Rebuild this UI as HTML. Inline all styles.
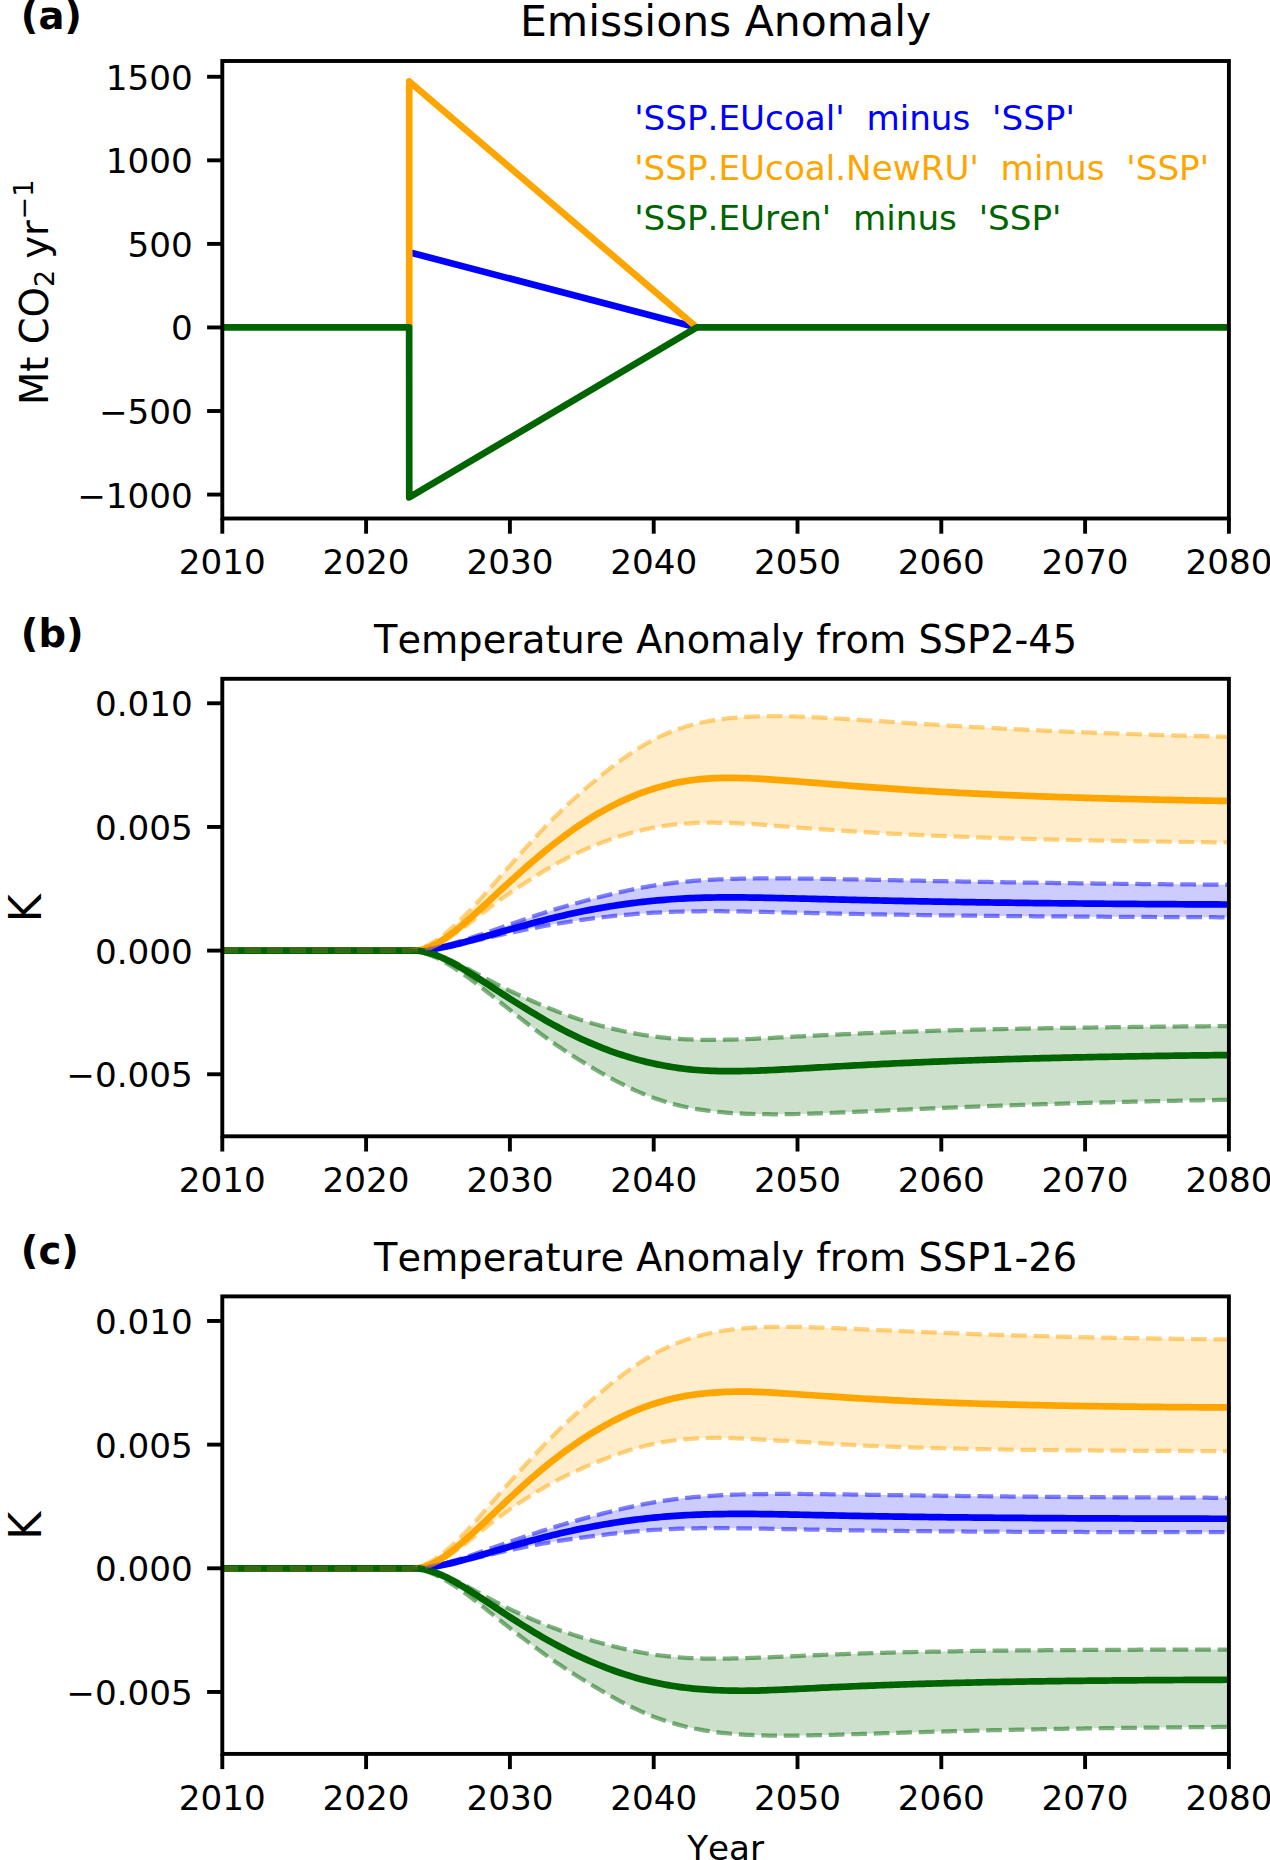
<!DOCTYPE html>
<html lang="en"><head><meta charset="utf-8"><title>Emissions and Temperature Anomaly</title>
<style>html,body{margin:0;padding:0;background:#fff}svg{display:block}</style></head>
<body>
<svg width="1270" height="1860" viewBox="0 0 1270 1860" font-family="DejaVu Sans, Liberation Sans, sans-serif" style="font-kerning:none;font-variant-ligatures:none">
<rect width="1270" height="1860" fill="#fff"/>
<defs>
<clipPath id="c0"><rect x="222.3" y="61.0" width="1006.6" height="457.5"/></clipPath>
<clipPath id="c1"><rect x="222.3" y="678.8" width="1006.6" height="457.5"/></clipPath>
<clipPath id="c2"><rect x="222.3" y="1296.4" width="1006.6" height="457.5"/></clipPath>
</defs>
<g clip-path="url(#c0)" fill="none" stroke-linejoin="round" stroke-width="6.7">
<path d="M409.24 252.25 L696.84 327.45" stroke="#0000ff"/>
<path d="M409.24 327.45 L409.24 81.45 L696.84 327.45" stroke="#ffa500"/>
<path d="M222.3 327.45 L409.14 327.45 L409.24 497.41 L696.84 327.45 L1238.9 327.45" stroke="#006400"/>
</g>
<line x1="222.3" y1="518.5" x2="222.3" y2="533.7" stroke="#000" stroke-width="3.9"/>
<text x="222.3" y="574.2" font-size="34.2" text-anchor="middle">2010</text>
<line x1="366.1" y1="518.5" x2="366.1" y2="533.7" stroke="#000" stroke-width="3.9"/>
<text x="366.1" y="574.2" font-size="34.2" text-anchor="middle">2020</text>
<line x1="509.9" y1="518.5" x2="509.9" y2="533.7" stroke="#000" stroke-width="3.9"/>
<text x="509.9" y="574.2" font-size="34.2" text-anchor="middle">2030</text>
<line x1="653.7" y1="518.5" x2="653.7" y2="533.7" stroke="#000" stroke-width="3.9"/>
<text x="653.7" y="574.2" font-size="34.2" text-anchor="middle">2040</text>
<line x1="797.5" y1="518.5" x2="797.5" y2="533.7" stroke="#000" stroke-width="3.9"/>
<text x="797.5" y="574.2" font-size="34.2" text-anchor="middle">2050</text>
<line x1="941.3" y1="518.5" x2="941.3" y2="533.7" stroke="#000" stroke-width="3.9"/>
<text x="941.3" y="574.2" font-size="34.2" text-anchor="middle">2060</text>
<line x1="1085.1" y1="518.5" x2="1085.1" y2="533.7" stroke="#000" stroke-width="3.9"/>
<text x="1085.1" y="574.2" font-size="34.2" text-anchor="middle">2070</text>
<line x1="1228.9" y1="518.5" x2="1228.9" y2="533.7" stroke="#000" stroke-width="3.9"/>
<text x="1228.9" y="574.2" font-size="34.2" text-anchor="middle">2080</text>
<line x1="207.1" y1="76.77" x2="222.3" y2="76.77" stroke="#000" stroke-width="3.9"/>
<text x="192.8" y="89.77" font-size="34.2" text-anchor="end">1500</text>
<line x1="207.1" y1="160.33" x2="222.3" y2="160.33" stroke="#000" stroke-width="3.9"/>
<text x="192.8" y="173.33" font-size="34.2" text-anchor="end">1000</text>
<line x1="207.1" y1="243.89" x2="222.3" y2="243.89" stroke="#000" stroke-width="3.9"/>
<text x="192.8" y="256.89" font-size="34.2" text-anchor="end">500</text>
<line x1="207.1" y1="327.45" x2="222.3" y2="327.45" stroke="#000" stroke-width="3.9"/>
<text x="192.8" y="340.45" font-size="34.2" text-anchor="end">0</text>
<line x1="207.1" y1="411.01" x2="222.3" y2="411.01" stroke="#000" stroke-width="3.9"/>
<text x="192.8" y="424.01" font-size="34.2" text-anchor="end">−500</text>
<line x1="207.1" y1="494.57" x2="222.3" y2="494.57" stroke="#000" stroke-width="3.9"/>
<text x="192.8" y="507.57" font-size="34.2" text-anchor="end">−1000</text>
<rect x="222.3" y="61" width="1006.6" height="457.5" fill="none" stroke="#000" stroke-width="3.9"/>
<text x="634.2" y="130.2" font-size="34.2" fill="#0000ff" xml:space="preserve">'SSP.EUcoal'  minus  'SSP'</text>
<text x="634.2" y="180.2" font-size="34.2" fill="#ffa500" xml:space="preserve">'SSP.EUcoal.NewRU'  minus  'SSP'</text>
<text x="634.2" y="230.2" font-size="34.2" fill="#006400" xml:space="preserve">'SSP.EUren'  minus  'SSP'</text>
<text transform="translate(48 404.9) rotate(-90)" font-size="38.5"><tspan x="0" y="0">Mt CO</tspan><tspan x="118" y="6.3" font-size="26.95">2</tspan><tspan x="146.2" y="0">yr</tspan><tspan x="185.5" y="-14.7" font-size="26.95">−1</tspan></text>
<g clip-path="url(#c1)" fill="none" stroke-linejoin="round">
<path d="M222.3 950.6 L409.24 950.59 L412.84 950.48 L416.43 950.27 L420.03 949.96 L423.62 949.55 L427.22 949.05 L430.81 948.46 L434.41 947.8 L438 947.05 L441.6 946.24 L445.19 945.36 L448.79 944.44 L452.38 943.46 L455.98 942.44 L459.57 941.38 L463.17 940.29 L466.76 939.17 L470.36 938.02 L473.95 936.84 L477.55 935.64 L481.14 934.43 L484.74 933.2 L488.33 931.96 L491.93 930.7 L495.52 929.45 L499.12 928.19 L502.71 926.93 L506.31 925.67 L509.9 924.41 L513.5 923.16 L517.09 921.91 L520.69 920.66 L524.28 919.43 L527.88 918.2 L531.47 916.99 L535.07 915.78 L538.66 914.59 L542.26 913.41 L545.85 912.25 L549.45 911.11 L553.04 909.99 L556.63 908.89 L560.23 907.81 L563.83 906.75 L567.42 905.7 L571.02 904.68 L574.61 903.67 L578.21 902.68 L581.8 901.7 L585.4 900.73 L588.99 899.78 L592.59 898.85 L596.18 897.92 L599.78 897.01 L603.37 896.1 L606.97 895.22 L610.56 894.35 L614.16 893.5 L617.75 892.67 L621.35 891.85 L624.94 891.06 L628.54 890.29 L632.13 889.55 L635.73 888.83 L639.32 888.13 L642.92 887.46 L646.51 886.82 L650.11 886.2 L653.7 885.62 L657.3 885.06 L660.89 884.54 L664.49 884.04 L668.08 883.57 L671.68 883.12 L675.27 882.7 L678.87 882.3 L682.46 881.93 L686.06 881.58 L689.65 881.26 L693.25 880.96 L696.84 880.68 L700.44 880.42 L704.03 880.19 L707.63 879.97 L711.22 879.78 L714.82 879.6 L718.41 879.43 L722.01 879.28 L725.6 879.15 L729.2 879.03 L732.79 878.92 L736.38 878.82 L739.98 878.73 L743.58 878.66 L747.17 878.6 L750.77 878.54 L754.36 878.5 L757.96 878.46 L761.55 878.44 L765.15 878.41 L768.74 878.4 L772.34 878.39 L775.93 878.38 L779.53 878.38 L783.12 878.39 L786.72 878.41 L790.31 878.43 L793.91 878.46 L797.5 878.5 L801.1 878.54 L804.69 878.59 L808.29 878.64 L811.88 878.69 L815.48 878.75 L819.07 878.8 L822.67 878.86 L826.26 878.92 L829.86 878.98 L833.45 879.05 L837.05 879.11 L840.64 879.18 L844.24 879.25 L847.83 879.32 L851.43 879.38 L855.02 879.45 L858.62 879.52 L862.21 879.6 L865.81 879.67 L869.4 879.74 L873 879.81 L876.59 879.88 L880.19 879.95 L883.78 880.03 L887.38 880.1 L890.97 880.17 L894.57 880.24 L898.16 880.31 L901.76 880.39 L905.35 880.46 L908.95 880.53 L912.54 880.6 L916.14 880.67 L919.73 880.74 L923.33 880.81 L926.92 880.88 L930.52 880.95 L934.11 881.02 L937.71 881.08 L941.3 881.15 L944.9 881.22 L948.49 881.28 L952.09 881.35 L955.68 881.42 L959.28 881.48 L962.87 881.54 L966.47 881.61 L970.06 881.67 L973.66 881.73 L977.25 881.8 L980.85 881.86 L984.44 881.92 L988.04 881.98 L991.63 882.04 L995.23 882.1 L998.82 882.16 L1002.42 882.21 L1006.01 882.27 L1009.61 882.33 L1013.2 882.38 L1016.8 882.44 L1020.39 882.49 L1023.99 882.55 L1027.58 882.6 L1031.18 882.65 L1034.77 882.71 L1038.37 882.76 L1041.96 882.81 L1045.56 882.86 L1049.15 882.91 L1052.75 882.96 L1056.34 883.01 L1059.94 883.06 L1063.53 883.1 L1067.13 883.15 L1070.72 883.2 L1074.32 883.24 L1077.91 883.29 L1081.51 883.33 L1085.1 883.38 L1088.7 883.42 L1092.29 883.47 L1095.89 883.51 L1099.48 883.55 L1103.08 883.59 L1106.67 883.63 L1110.27 883.67 L1113.86 883.71 L1117.46 883.75 L1121.05 883.79 L1124.65 883.83 L1128.24 883.87 L1131.84 883.91 L1135.43 883.95 L1139.03 883.98 L1142.62 884.02 L1146.22 884.06 L1149.81 884.09 L1153.41 884.13 L1157 884.16 L1160.6 884.2 L1164.19 884.23 L1167.79 884.26 L1171.38 884.3 L1174.98 884.33 L1178.57 884.36 L1182.17 884.39 L1185.76 884.42 L1189.36 884.46 L1192.95 884.49 L1196.55 884.52 L1200.14 884.55 L1203.74 884.58 L1207.33 884.6 L1210.93 884.63 L1214.52 884.66 L1218.12 884.69 L1221.71 884.72 L1225.31 884.74 L1228.9 884.77 L1228.9 917.29 L1225.31 917.28 L1221.71 917.27 L1218.12 917.26 L1214.52 917.24 L1210.93 917.23 L1207.33 917.22 L1203.74 917.21 L1200.14 917.19 L1196.55 917.18 L1192.95 917.16 L1189.36 917.15 L1185.76 917.14 L1182.17 917.12 L1178.57 917.11 L1174.98 917.09 L1171.38 917.08 L1167.79 917.06 L1164.19 917.05 L1160.6 917.03 L1157 917.01 L1153.41 917 L1149.81 916.98 L1146.22 916.96 L1142.62 916.95 L1139.03 916.93 L1135.43 916.91 L1131.84 916.89 L1128.24 916.87 L1124.65 916.86 L1121.05 916.84 L1117.46 916.82 L1113.86 916.8 L1110.27 916.78 L1106.67 916.76 L1103.08 916.73 L1099.48 916.71 L1095.89 916.69 L1092.29 916.67 L1088.7 916.65 L1085.1 916.62 L1081.51 916.6 L1077.91 916.58 L1074.32 916.55 L1070.72 916.53 L1067.13 916.5 L1063.53 916.48 L1059.94 916.45 L1056.34 916.43 L1052.75 916.4 L1049.15 916.37 L1045.56 916.34 L1041.96 916.32 L1038.37 916.29 L1034.77 916.26 L1031.18 916.23 L1027.58 916.2 L1023.99 916.17 L1020.39 916.14 L1016.8 916.1 L1013.2 916.07 L1009.61 916.04 L1006.01 916.01 L1002.42 915.97 L998.82 915.94 L995.23 915.9 L991.63 915.87 L988.04 915.83 L984.44 915.79 L980.85 915.75 L977.25 915.72 L973.66 915.68 L970.06 915.64 L966.47 915.6 L962.87 915.56 L959.28 915.51 L955.68 915.47 L952.09 915.43 L948.49 915.38 L944.9 915.34 L941.3 915.29 L937.71 915.25 L934.11 915.2 L930.52 915.15 L926.92 915.1 L923.33 915.05 L919.73 915 L916.14 914.95 L912.54 914.9 L908.95 914.85 L905.35 914.79 L901.76 914.74 L898.16 914.68 L894.57 914.62 L890.97 914.57 L887.38 914.51 L883.78 914.45 L880.19 914.39 L876.59 914.32 L873 914.26 L869.4 914.2 L865.81 914.13 L862.21 914.07 L858.62 914 L855.02 913.93 L851.43 913.86 L847.83 913.79 L844.24 913.72 L840.64 913.65 L837.05 913.58 L833.45 913.5 L829.86 913.43 L826.26 913.35 L822.67 913.27 L819.07 913.19 L815.48 913.11 L811.88 913.03 L808.29 912.95 L804.69 912.87 L801.1 912.78 L797.5 912.7 L793.91 912.61 L790.31 912.53 L786.72 912.44 L783.12 912.35 L779.53 912.27 L775.93 912.18 L772.34 912.09 L768.74 912 L765.15 911.91 L761.55 911.83 L757.96 911.74 L754.36 911.66 L750.77 911.59 L747.17 911.53 L743.58 911.47 L739.98 911.42 L736.38 911.37 L732.79 911.33 L729.2 911.29 L725.6 911.27 L722.01 911.24 L718.41 911.23 L714.82 911.22 L711.22 911.22 L707.63 911.22 L704.03 911.24 L700.44 911.26 L696.84 911.29 L693.25 911.33 L689.65 911.39 L686.06 911.46 L682.46 911.54 L678.87 911.64 L675.27 911.75 L671.68 911.87 L668.08 912.01 L664.49 912.17 L660.89 912.34 L657.3 912.52 L653.7 912.72 L650.11 912.94 L646.51 913.18 L642.92 913.43 L639.32 913.69 L635.73 913.97 L632.13 914.27 L628.54 914.58 L624.94 914.91 L621.35 915.25 L617.75 915.6 L614.16 915.97 L610.56 916.35 L606.97 916.75 L603.37 917.16 L599.78 917.58 L596.18 918.02 L592.59 918.47 L588.99 918.93 L585.4 919.41 L581.8 919.91 L578.21 920.43 L574.61 920.95 L571.02 921.5 L567.42 922.06 L563.83 922.64 L560.23 923.23 L556.63 923.84 L553.04 924.46 L549.45 925.1 L545.85 925.75 L542.26 926.42 L538.66 927.11 L535.07 927.8 L531.47 928.49 L527.88 929.2 L524.28 929.91 L520.69 930.63 L517.09 931.37 L513.5 932.11 L509.9 932.87 L506.31 933.63 L502.71 934.42 L499.12 935.21 L495.52 936.03 L491.93 936.85 L488.33 937.69 L484.74 938.54 L481.14 939.39 L477.55 940.24 L473.95 941.09 L470.36 941.94 L466.76 942.78 L463.17 943.6 L459.57 944.42 L455.98 945.21 L452.38 945.98 L448.79 946.72 L445.19 947.42 L441.6 948.08 L438 948.69 L434.41 949.23 L430.81 949.7 L427.22 950.08 L423.62 950.37 L420.03 950.55 L416.43 950.62 L412.84 950.6 L409.24 950.6 L222.3 950.6Z" fill="#0000ff" fill-opacity="0.2" stroke="none"/>
<path d="M222.3 950.6 L409.24 950.57 L412.84 950.23 L416.43 949.53 L420.03 948.51 L423.62 947.18 L427.22 945.56 L430.81 943.66 L434.41 941.5 L438 939.09 L441.6 936.44 L445.19 933.6 L448.79 930.59 L452.38 927.42 L455.98 924.11 L459.57 920.68 L463.17 917.13 L466.76 913.48 L470.36 909.74 L473.95 905.92 L477.55 902.04 L481.14 898.09 L484.74 894.1 L488.33 890.07 L491.93 886 L495.52 881.92 L499.12 877.83 L502.71 873.74 L506.31 869.65 L509.9 865.56 L513.5 861.49 L517.09 857.44 L520.69 853.41 L524.28 849.4 L527.88 845.42 L531.47 841.47 L535.07 837.56 L538.66 833.68 L542.26 829.84 L545.85 826.08 L549.45 822.38 L553.04 818.74 L556.63 815.17 L560.23 811.67 L563.83 808.22 L567.42 804.83 L571.02 801.5 L574.61 798.23 L578.21 795 L581.8 791.83 L585.4 788.7 L588.99 785.61 L592.59 782.57 L596.18 779.56 L599.78 776.59 L603.37 773.67 L606.97 770.79 L610.56 767.97 L614.16 765.21 L617.75 762.51 L621.35 759.87 L624.94 757.3 L628.54 754.8 L632.13 752.38 L635.73 750.04 L639.32 747.78 L642.92 745.6 L646.51 743.51 L650.11 741.52 L653.7 739.62 L657.3 737.82 L660.89 736.12 L664.49 734.5 L668.08 732.97 L671.68 731.52 L675.27 730.14 L678.87 728.85 L682.46 727.64 L686.06 726.51 L689.65 725.46 L693.25 724.48 L696.84 723.58 L700.44 722.76 L704.03 721.99 L707.63 721.3 L711.22 720.66 L714.82 720.07 L718.41 719.54 L722.01 719.05 L725.6 718.61 L729.2 718.22 L732.79 717.86 L736.38 717.55 L739.98 717.27 L743.58 717.03 L747.17 716.82 L750.77 716.65 L754.36 716.5 L757.96 716.39 L761.55 716.3 L765.15 716.23 L768.74 716.18 L772.34 716.14 L775.93 716.13 L779.53 716.13 L783.12 716.16 L786.72 716.2 L790.31 716.27 L793.91 716.37 L797.5 716.5 L801.1 716.64 L804.69 716.79 L808.29 716.96 L811.88 717.13 L815.48 717.31 L819.07 717.49 L822.67 717.68 L826.26 717.88 L829.86 718.08 L833.45 718.29 L837.05 718.5 L840.64 718.72 L844.24 718.94 L847.83 719.16 L851.43 719.38 L855.02 719.61 L858.62 719.84 L862.21 720.07 L865.81 720.3 L869.4 720.53 L873 720.76 L876.59 721 L880.19 721.23 L883.78 721.46 L887.38 721.7 L890.97 721.93 L894.57 722.16 L898.16 722.4 L901.76 722.63 L905.35 722.86 L908.95 723.09 L912.54 723.32 L916.14 723.55 L919.73 723.78 L923.33 724.01 L926.92 724.23 L930.52 724.45 L934.11 724.68 L937.71 724.9 L941.3 725.12 L944.9 725.33 L948.49 725.55 L952.09 725.76 L955.68 725.98 L959.28 726.19 L962.87 726.39 L966.47 726.6 L970.06 726.81 L973.66 727.01 L977.25 727.21 L980.85 727.41 L984.44 727.61 L988.04 727.8 L991.63 728 L995.23 728.19 L998.82 728.38 L1002.42 728.56 L1006.01 728.75 L1009.61 728.93 L1013.2 729.11 L1016.8 729.29 L1020.39 729.47 L1023.99 729.65 L1027.58 729.82 L1031.18 729.99 L1034.77 730.16 L1038.37 730.33 L1041.96 730.5 L1045.56 730.66 L1049.15 730.82 L1052.75 730.98 L1056.34 731.14 L1059.94 731.3 L1063.53 731.45 L1067.13 731.61 L1070.72 731.76 L1074.32 731.91 L1077.91 732.06 L1081.51 732.2 L1085.1 732.35 L1088.7 732.49 L1092.29 732.63 L1095.89 732.77 L1099.48 732.91 L1103.08 733.04 L1106.67 733.18 L1110.27 733.31 L1113.86 733.44 L1117.46 733.57 L1121.05 733.7 L1124.65 733.82 L1128.24 733.95 L1131.84 734.07 L1135.43 734.19 L1139.03 734.31 L1142.62 734.43 L1146.22 734.55 L1149.81 734.66 L1153.41 734.78 L1157 734.89 L1160.6 735 L1164.19 735.11 L1167.79 735.22 L1171.38 735.33 L1174.98 735.43 L1178.57 735.54 L1182.17 735.64 L1185.76 735.74 L1189.36 735.84 L1192.95 735.94 L1196.55 736.04 L1200.14 736.14 L1203.74 736.23 L1207.33 736.33 L1210.93 736.42 L1214.52 736.51 L1218.12 736.61 L1221.71 736.69 L1225.31 736.78 L1228.9 736.87 L1228.9 842.46 L1225.31 842.42 L1221.71 842.38 L1218.12 842.34 L1214.52 842.3 L1210.93 842.26 L1207.33 842.22 L1203.74 842.18 L1200.14 842.13 L1196.55 842.09 L1192.95 842.04 L1189.36 842 L1185.76 841.95 L1182.17 841.91 L1178.57 841.86 L1174.98 841.81 L1171.38 841.76 L1167.79 841.71 L1164.19 841.66 L1160.6 841.61 L1157 841.56 L1153.41 841.5 L1149.81 841.45 L1146.22 841.39 L1142.62 841.34 L1139.03 841.28 L1135.43 841.22 L1131.84 841.16 L1128.24 841.1 L1124.65 841.04 L1121.05 840.98 L1117.46 840.91 L1113.86 840.85 L1110.27 840.78 L1106.67 840.72 L1103.08 840.65 L1099.48 840.58 L1095.89 840.51 L1092.29 840.43 L1088.7 840.36 L1085.1 840.29 L1081.51 840.21 L1077.91 840.13 L1074.32 840.06 L1070.72 839.98 L1067.13 839.9 L1063.53 839.81 L1059.94 839.73 L1056.34 839.64 L1052.75 839.56 L1049.15 839.47 L1045.56 839.38 L1041.96 839.29 L1038.37 839.19 L1034.77 839.1 L1031.18 839 L1027.58 838.9 L1023.99 838.81 L1020.39 838.7 L1016.8 838.6 L1013.2 838.5 L1009.61 838.39 L1006.01 838.28 L1002.42 838.17 L998.82 838.06 L995.23 837.94 L991.63 837.83 L988.04 837.71 L984.44 837.59 L980.85 837.46 L977.25 837.34 L973.66 837.21 L970.06 837.08 L966.47 836.95 L962.87 836.82 L959.28 836.68 L955.68 836.54 L952.09 836.4 L948.49 836.26 L944.9 836.11 L941.3 835.97 L937.71 835.82 L934.11 835.66 L930.52 835.51 L926.92 835.35 L923.33 835.19 L919.73 835.02 L916.14 834.86 L912.54 834.69 L908.95 834.51 L905.35 834.34 L901.76 834.16 L898.16 833.98 L894.57 833.79 L890.97 833.61 L887.38 833.41 L883.78 833.22 L880.19 833.02 L876.59 832.82 L873 832.62 L869.4 832.41 L865.81 832.2 L862.21 831.99 L858.62 831.77 L855.02 831.55 L851.43 831.32 L847.83 831.1 L844.24 830.86 L840.64 830.63 L837.05 830.39 L833.45 830.15 L829.86 829.9 L826.26 829.65 L822.67 829.4 L819.07 829.15 L815.48 828.89 L811.88 828.62 L808.29 828.36 L804.69 828.09 L801.1 827.82 L797.5 827.54 L793.91 827.27 L790.31 826.99 L786.72 826.71 L783.12 826.42 L779.53 826.14 L775.93 825.85 L772.34 825.57 L768.74 825.28 L765.15 825 L761.55 824.71 L757.96 824.44 L754.36 824.18 L750.77 823.95 L747.17 823.74 L743.58 823.55 L739.98 823.38 L736.38 823.23 L732.79 823.1 L729.2 822.99 L725.6 822.89 L722.01 822.82 L718.41 822.77 L714.82 822.74 L711.22 822.73 L707.63 822.75 L704.03 822.79 L700.44 822.87 L696.84 822.98 L693.25 823.12 L689.65 823.3 L686.06 823.52 L682.46 823.79 L678.87 824.1 L675.27 824.46 L671.68 824.86 L668.08 825.31 L664.49 825.81 L660.89 826.36 L657.3 826.97 L653.7 827.62 L650.11 828.33 L646.51 829.09 L642.92 829.9 L639.32 830.77 L635.73 831.68 L632.13 832.64 L628.54 833.65 L624.94 834.71 L621.35 835.82 L617.75 836.97 L614.16 838.17 L610.56 839.41 L606.97 840.69 L603.37 842.02 L599.78 843.39 L596.18 844.81 L592.59 846.27 L588.99 847.78 L585.4 849.35 L581.8 850.96 L578.21 852.63 L574.61 854.35 L571.02 856.12 L567.42 857.94 L563.83 859.81 L560.23 861.73 L556.63 863.7 L553.04 865.73 L549.45 867.8 L545.85 869.93 L542.26 872.1 L538.66 874.32 L535.07 876.57 L531.47 878.83 L527.88 881.11 L524.28 883.43 L520.69 885.77 L517.09 888.15 L513.5 890.56 L509.9 893.02 L506.31 895.52 L502.71 898.06 L499.12 900.65 L495.52 903.28 L491.93 905.97 L488.33 908.7 L484.74 911.44 L481.14 914.2 L477.55 916.96 L473.95 919.72 L470.36 922.47 L466.76 925.2 L463.17 927.89 L459.57 930.53 L455.98 933.11 L452.38 935.6 L448.79 938 L445.19 940.29 L441.6 942.42 L438 944.39 L434.41 946.15 L430.81 947.67 L427.22 948.91 L423.62 949.85 L420.03 950.45 L416.43 950.66 L412.84 950.62 L409.24 950.6 L222.3 950.6Z" fill="#ffa500" fill-opacity="0.2" stroke="none"/>
<path d="M222.3 950.6 L409.24 950.62 L412.84 950.86 L416.43 951.34 L420.03 952.06 L423.62 952.98 L427.22 954.12 L430.81 955.44 L434.41 956.95 L438 958.64 L441.6 960.48 L445.19 962.46 L448.79 964.57 L452.38 966.78 L455.98 969.09 L459.57 971.48 L463.17 973.96 L466.76 976.51 L470.36 979.12 L473.95 981.78 L477.55 984.5 L481.14 987.25 L484.74 990.04 L488.33 992.85 L491.93 995.69 L495.52 998.54 L499.12 1001.39 L502.71 1004.25 L506.31 1007.11 L509.9 1009.96 L513.5 1012.8 L517.09 1015.63 L520.69 1018.44 L524.28 1021.24 L527.88 1024.02 L531.47 1026.77 L535.07 1029.5 L538.66 1032.21 L542.26 1034.89 L545.85 1037.52 L549.45 1040.1 L553.04 1042.64 L556.63 1045.13 L560.23 1047.57 L563.83 1049.98 L567.42 1052.34 L571.02 1054.67 L574.61 1056.96 L578.21 1059.21 L581.8 1061.42 L585.4 1063.61 L588.99 1065.76 L592.59 1067.89 L596.18 1069.98 L599.78 1072.06 L603.37 1074.1 L606.97 1076.11 L610.56 1078.07 L614.16 1080 L617.75 1081.89 L621.35 1083.73 L624.94 1085.52 L628.54 1087.27 L632.13 1088.96 L635.73 1090.59 L639.32 1092.17 L642.92 1093.69 L646.51 1095.15 L650.11 1096.54 L653.7 1097.87 L657.3 1099.12 L660.89 1100.31 L664.49 1101.44 L668.08 1102.51 L671.68 1103.52 L675.27 1104.48 L678.87 1105.38 L682.46 1106.22 L686.06 1107.01 L689.65 1107.75 L693.25 1108.43 L696.84 1109.06 L700.44 1109.64 L704.03 1110.17 L707.63 1110.65 L711.22 1111.1 L714.82 1111.51 L718.41 1111.88 L722.01 1112.22 L725.6 1112.53 L729.2 1112.8 L732.79 1113.05 L736.38 1113.27 L739.98 1113.46 L743.58 1113.63 L747.17 1113.78 L750.77 1113.9 L754.36 1114 L757.96 1114.08 L761.55 1114.14 L765.15 1114.19 L768.74 1114.23 L772.34 1114.25 L775.93 1114.26 L779.53 1114.26 L783.12 1114.24 L786.72 1114.21 L790.31 1114.16 L793.91 1114.09 L797.5 1114 L801.1 1113.9 L804.69 1113.8 L808.29 1113.68 L811.88 1113.56 L815.48 1113.44 L819.07 1113.31 L822.67 1113.18 L826.26 1113.04 L829.86 1112.9 L833.45 1112.75 L837.05 1112.6 L840.64 1112.45 L844.24 1112.3 L847.83 1112.15 L851.43 1111.99 L855.02 1111.83 L858.62 1111.67 L862.21 1111.51 L865.81 1111.35 L869.4 1111.19 L873 1111.03 L876.59 1110.86 L880.19 1110.7 L883.78 1110.54 L887.38 1110.37 L890.97 1110.21 L894.57 1110.05 L898.16 1109.89 L901.76 1109.72 L905.35 1109.56 L908.95 1109.4 L912.54 1109.24 L916.14 1109.08 L919.73 1108.92 L923.33 1108.76 L926.92 1108.61 L930.52 1108.45 L934.11 1108.29 L937.71 1108.14 L941.3 1107.99 L944.9 1107.84 L948.49 1107.69 L952.09 1107.54 L955.68 1107.39 L959.28 1107.24 L962.87 1107.1 L966.47 1106.95 L970.06 1106.81 L973.66 1106.67 L977.25 1106.53 L980.85 1106.39 L984.44 1106.25 L988.04 1106.11 L991.63 1105.98 L995.23 1105.84 L998.82 1105.71 L1002.42 1105.58 L1006.01 1105.45 L1009.61 1105.32 L1013.2 1105.2 L1016.8 1105.07 L1020.39 1104.95 L1023.99 1104.83 L1027.58 1104.7 L1031.18 1104.58 L1034.77 1104.47 L1038.37 1104.35 L1041.96 1104.23 L1045.56 1104.12 L1049.15 1104 L1052.75 1103.89 L1056.34 1103.78 L1059.94 1103.67 L1063.53 1103.56 L1067.13 1103.46 L1070.72 1103.35 L1074.32 1103.25 L1077.91 1103.14 L1081.51 1103.04 L1085.1 1102.94 L1088.7 1102.84 L1092.29 1102.74 L1095.89 1102.65 L1099.48 1102.55 L1103.08 1102.46 L1106.67 1102.36 L1110.27 1102.27 L1113.86 1102.18 L1117.46 1102.09 L1121.05 1102 L1124.65 1101.91 L1128.24 1101.82 L1131.84 1101.74 L1135.43 1101.65 L1139.03 1101.57 L1142.62 1101.49 L1146.22 1101.4 L1149.81 1101.32 L1153.41 1101.24 L1157 1101.17 L1160.6 1101.09 L1164.19 1101.01 L1167.79 1100.94 L1171.38 1100.86 L1174.98 1100.79 L1178.57 1100.71 L1182.17 1100.64 L1185.76 1100.57 L1189.36 1100.5 L1192.95 1100.43 L1196.55 1100.36 L1200.14 1100.29 L1203.74 1100.23 L1207.33 1100.16 L1210.93 1100.1 L1214.52 1100.03 L1218.12 1099.97 L1221.71 1099.91 L1225.31 1099.84 L1228.9 1099.78 L1228.9 1026.09 L1225.31 1026.11 L1221.71 1026.14 L1218.12 1026.17 L1214.52 1026.19 L1210.93 1026.22 L1207.33 1026.25 L1203.74 1026.28 L1200.14 1026.31 L1196.55 1026.34 L1192.95 1026.37 L1189.36 1026.4 L1185.76 1026.44 L1182.17 1026.47 L1178.57 1026.5 L1174.98 1026.53 L1171.38 1026.57 L1167.79 1026.6 L1164.19 1026.64 L1160.6 1026.68 L1157 1026.71 L1153.41 1026.75 L1149.81 1026.79 L1146.22 1026.83 L1142.62 1026.87 L1139.03 1026.91 L1135.43 1026.95 L1131.84 1026.99 L1128.24 1027.03 L1124.65 1027.07 L1121.05 1027.12 L1117.46 1027.16 L1113.86 1027.21 L1110.27 1027.25 L1106.67 1027.3 L1103.08 1027.35 L1099.48 1027.4 L1095.89 1027.45 L1092.29 1027.5 L1088.7 1027.55 L1085.1 1027.6 L1081.51 1027.65 L1077.91 1027.7 L1074.32 1027.76 L1070.72 1027.82 L1067.13 1027.87 L1063.53 1027.93 L1059.94 1027.99 L1056.34 1028.05 L1052.75 1028.11 L1049.15 1028.17 L1045.56 1028.23 L1041.96 1028.3 L1038.37 1028.36 L1034.77 1028.43 L1031.18 1028.49 L1027.58 1028.56 L1023.99 1028.63 L1020.39 1028.7 L1016.8 1028.78 L1013.2 1028.85 L1009.61 1028.92 L1006.01 1029 L1002.42 1029.08 L998.82 1029.16 L995.23 1029.24 L991.63 1029.32 L988.04 1029.4 L984.44 1029.48 L980.85 1029.57 L977.25 1029.66 L973.66 1029.74 L970.06 1029.83 L966.47 1029.93 L962.87 1030.02 L959.28 1030.11 L955.68 1030.21 L952.09 1030.31 L948.49 1030.41 L944.9 1030.51 L941.3 1030.61 L937.71 1030.72 L934.11 1030.83 L930.52 1030.94 L926.92 1031.05 L923.33 1031.16 L919.73 1031.27 L916.14 1031.39 L912.54 1031.51 L908.95 1031.63 L905.35 1031.75 L901.76 1031.88 L898.16 1032 L894.57 1032.13 L890.97 1032.26 L887.38 1032.4 L883.78 1032.53 L880.19 1032.67 L876.59 1032.81 L873 1032.95 L869.4 1033.1 L865.81 1033.24 L862.21 1033.39 L858.62 1033.54 L855.02 1033.7 L851.43 1033.86 L847.83 1034.01 L844.24 1034.18 L840.64 1034.34 L837.05 1034.51 L833.45 1034.68 L829.86 1034.85 L826.26 1035.02 L822.67 1035.2 L819.07 1035.38 L815.48 1035.56 L811.88 1035.74 L808.29 1035.92 L804.69 1036.11 L801.1 1036.3 L797.5 1036.49 L793.91 1036.69 L790.31 1036.88 L786.72 1037.08 L783.12 1037.28 L779.53 1037.47 L775.93 1037.67 L772.34 1037.87 L768.74 1038.07 L765.15 1038.27 L761.55 1038.47 L757.96 1038.66 L754.36 1038.84 L750.77 1039 L747.17 1039.15 L743.58 1039.28 L739.98 1039.4 L736.38 1039.5 L732.79 1039.6 L729.2 1039.67 L725.6 1039.74 L722.01 1039.79 L718.41 1039.83 L714.82 1039.85 L711.22 1039.85 L707.63 1039.84 L704.03 1039.81 L700.44 1039.76 L696.84 1039.68 L693.25 1039.58 L689.65 1039.46 L686.06 1039.3 L682.46 1039.11 L678.87 1038.9 L675.27 1038.65 L671.68 1038.37 L668.08 1038.05 L664.49 1037.7 L660.89 1037.32 L657.3 1036.9 L653.7 1036.44 L650.11 1035.94 L646.51 1035.41 L642.92 1034.85 L639.32 1034.24 L635.73 1033.61 L632.13 1032.93 L628.54 1032.23 L624.94 1031.49 L621.35 1030.72 L617.75 1029.91 L614.16 1029.08 L610.56 1028.21 L606.97 1027.31 L603.37 1026.39 L599.78 1025.43 L596.18 1024.44 L592.59 1023.42 L588.99 1022.37 L585.4 1021.27 L581.8 1020.15 L578.21 1018.98 L574.61 1017.78 L571.02 1016.55 L567.42 1015.28 L563.83 1013.97 L560.23 1012.63 L556.63 1011.25 L553.04 1009.84 L549.45 1008.39 L545.85 1006.91 L542.26 1005.39 L538.66 1003.84 L535.07 1002.28 L531.47 1000.7 L527.88 999.1 L524.28 997.49 L520.69 995.85 L517.09 994.19 L513.5 992.51 L509.9 990.79 L506.31 989.05 L502.71 987.27 L499.12 985.47 L495.52 983.63 L491.93 981.75 L488.33 979.85 L484.74 977.93 L481.14 976.01 L477.55 974.08 L473.95 972.15 L470.36 970.23 L466.76 968.33 L463.17 966.45 L459.57 964.61 L455.98 962.81 L452.38 961.07 L448.79 959.39 L445.19 957.8 L441.6 956.31 L438 954.93 L434.41 953.71 L430.81 952.65 L427.22 951.78 L423.62 951.12 L420.03 950.7 L416.43 950.56 L412.84 950.59 L409.24 950.6 L222.3 950.6Z" fill="#006400" fill-opacity="0.2" stroke="none"/>
<path d="M222.3 950.6 L409.24 950.6 L412.84 950.61 L416.43 950.56 L420.03 950.41 L423.62 950.15 L427.22 949.8 L430.81 949.36 L434.41 948.83 L438 948.23 L441.6 947.56 L445.19 946.82 L448.79 946.04 L452.38 945.21 L455.98 944.34 L459.57 943.44 L463.17 942.51 L466.76 941.55 L470.36 940.58 L473.95 939.58 L477.55 938.58 L481.14 937.56 L484.74 936.53 L488.33 935.5 L491.93 934.47 L495.52 933.44 L499.12 932.42 L502.71 931.39 L506.31 930.38 L509.9 929.37 L513.5 928.36 L517.09 927.37 L520.69 926.38 L524.28 925.4 L527.88 924.43 L531.47 923.47 L535.07 922.52 L538.66 921.58 L542.26 920.65 L545.85 919.74 L549.45 918.84 L553.04 917.96 L556.63 917.09 L560.23 916.24 L563.83 915.41 L567.42 914.59 L571.02 913.8 L574.61 913.02 L578.21 912.26 L581.8 911.52 L585.4 910.8 L588.99 910.09 L592.59 909.41 L596.18 908.75 L599.78 908.1 L603.37 907.47 L606.97 906.87 L610.56 906.28 L614.16 905.71 L617.75 905.16 L621.35 904.63 L624.94 904.12 L628.54 903.63 L632.13 903.16 L635.73 902.71 L639.32 902.28 L642.92 901.86 L646.51 901.47 L650.11 901.09 L653.7 900.74 L657.3 900.4 L660.89 900.09 L664.49 899.79 L668.08 899.51 L671.68 899.24 L675.27 898.99 L678.87 898.77 L682.46 898.56 L686.06 898.37 L689.65 898.19 L693.25 898.04 L696.84 897.91 L700.44 897.79 L704.03 897.7 L707.63 897.62 L711.22 897.55 L714.82 897.5 L718.41 897.46 L722.01 897.43 L725.6 897.41 L729.2 897.4 L732.79 897.41 L736.38 897.42 L739.98 897.44 L743.58 897.46 L747.17 897.5 L750.77 897.54 L754.36 897.59 L757.96 897.65 L761.55 897.71 L765.15 897.78 L768.74 897.85 L772.34 897.92 L775.93 897.99 L779.53 898.07 L783.12 898.15 L786.72 898.23 L790.31 898.32 L793.91 898.41 L797.5 898.49 L801.1 898.59 L804.69 898.68 L808.29 898.77 L811.88 898.86 L815.48 898.95 L819.07 899.04 L822.67 899.13 L826.26 899.22 L829.86 899.31 L833.45 899.4 L837.05 899.49 L840.64 899.58 L844.24 899.67 L847.83 899.76 L851.43 899.84 L855.02 899.93 L858.62 900.01 L862.21 900.1 L865.81 900.18 L869.4 900.26 L873 900.34 L876.59 900.42 L880.19 900.5 L883.78 900.58 L887.38 900.66 L890.97 900.73 L894.57 900.81 L898.16 900.88 L901.76 900.96 L905.35 901.03 L908.95 901.1 L912.54 901.17 L916.14 901.24 L919.73 901.31 L923.33 901.38 L926.92 901.44 L930.52 901.51 L934.11 901.57 L937.71 901.64 L941.3 901.7 L944.9 901.76 L948.49 901.82 L952.09 901.88 L955.68 901.94 L959.28 902 L962.87 902.06 L966.47 902.11 L970.06 902.17 L973.66 902.22 L977.25 902.28 L980.85 902.33 L984.44 902.38 L988.04 902.43 L991.63 902.48 L995.23 902.53 L998.82 902.58 L1002.42 902.63 L1006.01 902.68 L1009.61 902.72 L1013.2 902.77 L1016.8 902.81 L1020.39 902.86 L1023.99 902.9 L1027.58 902.95 L1031.18 902.99 L1034.77 903.03 L1038.37 903.07 L1041.96 903.11 L1045.56 903.15 L1049.15 903.19 L1052.75 903.23 L1056.34 903.27 L1059.94 903.3 L1063.53 903.34 L1067.13 903.38 L1070.72 903.41 L1074.32 903.45 L1077.91 903.48 L1081.51 903.51 L1085.1 903.55 L1088.7 903.58 L1092.29 903.61 L1095.89 903.64 L1099.48 903.67 L1103.08 903.7 L1106.67 903.73 L1110.27 903.76 L1113.86 903.79 L1117.46 903.82 L1121.05 903.85 L1124.65 903.88 L1128.24 903.9 L1131.84 903.93 L1135.43 903.96 L1139.03 903.98 L1142.62 904.01 L1146.22 904.03 L1149.81 904.06 L1153.41 904.08 L1157 904.11 L1160.6 904.13 L1164.19 904.15 L1167.79 904.18 L1171.38 904.2 L1174.98 904.22 L1178.57 904.24 L1182.17 904.26 L1185.76 904.29 L1189.36 904.31 L1192.95 904.33 L1196.55 904.35 L1200.14 904.37 L1203.74 904.38 L1207.33 904.4 L1210.93 904.42 L1214.52 904.44 L1218.12 904.46 L1221.71 904.48 L1225.31 904.49 L1228.9 904.51" stroke="#0000ff" stroke-width="6.7"/>
<path d="M222.3 950.6 L409.24 950.6 L412.84 950.63 L416.43 950.48 L420.03 949.98 L423.62 949.14 L427.22 948 L430.81 946.57 L434.41 944.86 L438 942.91 L441.6 940.72 L445.19 938.34 L448.79 935.8 L452.38 933.1 L455.98 930.29 L459.57 927.36 L463.17 924.33 L466.76 921.23 L470.36 918.06 L473.95 914.83 L477.55 911.56 L481.14 908.25 L484.74 904.93 L488.33 901.59 L491.93 898.24 L495.52 894.89 L499.12 891.56 L502.71 888.24 L506.31 884.94 L509.9 881.66 L513.5 878.4 L517.09 875.17 L520.69 871.97 L524.28 868.79 L527.88 865.64 L531.47 862.53 L535.07 859.44 L538.66 856.39 L542.26 853.37 L545.85 850.4 L549.45 847.48 L553.04 844.61 L556.63 841.8 L560.23 839.04 L563.83 836.34 L567.42 833.69 L571.02 831.11 L574.61 828.58 L578.21 826.12 L581.8 823.71 L585.4 821.37 L588.99 819.08 L592.59 816.87 L596.18 814.71 L599.78 812.61 L603.37 810.58 L606.97 808.61 L610.56 806.71 L614.16 804.86 L617.75 803.08 L621.35 801.36 L624.94 799.7 L628.54 798.11 L632.13 796.58 L635.73 795.11 L639.32 793.71 L642.92 792.36 L646.51 791.09 L650.11 789.87 L653.7 788.72 L657.3 787.62 L660.89 786.6 L664.49 785.62 L668.08 784.71 L671.68 783.85 L675.27 783.05 L678.87 782.31 L682.46 781.63 L686.06 781.01 L689.65 780.45 L693.25 779.96 L696.84 779.52 L700.44 779.15 L704.03 778.84 L707.63 778.57 L711.22 778.36 L714.82 778.19 L718.41 778.06 L722.01 777.97 L725.6 777.91 L729.2 777.89 L732.79 777.89 L736.38 777.93 L739.98 777.99 L743.58 778.08 L747.17 778.2 L750.77 778.34 L754.36 778.5 L757.96 778.68 L761.55 778.88 L765.15 779.1 L768.74 779.32 L772.34 779.56 L775.93 779.8 L779.53 780.05 L783.12 780.31 L786.72 780.58 L790.31 780.85 L793.91 781.14 L797.5 781.43 L801.1 781.72 L804.69 782.02 L808.29 782.31 L811.88 782.61 L815.48 782.91 L819.07 783.2 L822.67 783.5 L826.26 783.79 L829.86 784.09 L833.45 784.38 L837.05 784.67 L840.64 784.95 L844.24 785.24 L847.83 785.52 L851.43 785.8 L855.02 786.08 L858.62 786.36 L862.21 786.63 L865.81 786.9 L869.4 787.16 L873 787.43 L876.59 787.69 L880.19 787.95 L883.78 788.2 L887.38 788.45 L890.97 788.7 L894.57 788.94 L898.16 789.19 L901.76 789.42 L905.35 789.66 L908.95 789.89 L912.54 790.12 L916.14 790.34 L919.73 790.57 L923.33 790.79 L926.92 791 L930.52 791.21 L934.11 791.42 L937.71 791.63 L941.3 791.83 L944.9 792.03 L948.49 792.23 L952.09 792.43 L955.68 792.62 L959.28 792.81 L962.87 792.99 L966.47 793.17 L970.06 793.35 L973.66 793.53 L977.25 793.71 L980.85 793.88 L984.44 794.05 L988.04 794.21 L991.63 794.38 L995.23 794.54 L998.82 794.7 L1002.42 794.85 L1006.01 795.01 L1009.61 795.16 L1013.2 795.31 L1016.8 795.45 L1020.39 795.6 L1023.99 795.74 L1027.58 795.88 L1031.18 796.02 L1034.77 796.15 L1038.37 796.28 L1041.96 796.41 L1045.56 796.54 L1049.15 796.67 L1052.75 796.79 L1056.34 796.92 L1059.94 797.04 L1063.53 797.16 L1067.13 797.27 L1070.72 797.39 L1074.32 797.5 L1077.91 797.61 L1081.51 797.72 L1085.1 797.83 L1088.7 797.94 L1092.29 798.04 L1095.89 798.14 L1099.48 798.24 L1103.08 798.34 L1106.67 798.44 L1110.27 798.54 L1113.86 798.63 L1117.46 798.72 L1121.05 798.81 L1124.65 798.9 L1128.24 798.99 L1131.84 799.08 L1135.43 799.17 L1139.03 799.25 L1142.62 799.33 L1146.22 799.41 L1149.81 799.49 L1153.41 799.57 L1157 799.65 L1160.6 799.73 L1164.19 799.8 L1167.79 799.88 L1171.38 799.95 L1174.98 800.02 L1178.57 800.09 L1182.17 800.16 L1185.76 800.23 L1189.36 800.29 L1192.95 800.36 L1196.55 800.42 L1200.14 800.49 L1203.74 800.55 L1207.33 800.61 L1210.93 800.67 L1214.52 800.73 L1218.12 800.79 L1221.71 800.85 L1225.31 800.91 L1228.9 800.96" stroke="#ffa500" stroke-width="6.7"/>
<path d="M222.3 950.6 L409.24 950.6 L412.84 950.58 L416.43 950.68 L420.03 951.04 L423.62 951.62 L427.22 952.42 L430.81 953.42 L434.41 954.6 L438 955.97 L441.6 957.5 L445.19 959.16 L448.79 960.93 L452.38 962.81 L455.98 964.78 L459.57 966.82 L463.17 968.94 L466.76 971.1 L470.36 973.32 L473.95 975.57 L477.55 977.85 L481.14 980.16 L484.74 982.48 L488.33 984.81 L491.93 987.15 L495.52 989.48 L499.12 991.81 L502.71 994.13 L506.31 996.43 L509.9 998.72 L513.5 1000.99 L517.09 1003.25 L520.69 1005.49 L524.28 1007.7 L527.88 1009.9 L531.47 1012.07 L535.07 1014.23 L538.66 1016.36 L542.26 1018.47 L545.85 1020.54 L549.45 1022.58 L553.04 1024.58 L556.63 1026.54 L560.23 1028.47 L563.83 1030.35 L567.42 1032.2 L571.02 1034 L574.61 1035.77 L578.21 1037.49 L581.8 1039.17 L585.4 1040.8 L588.99 1042.4 L592.59 1043.95 L596.18 1045.45 L599.78 1046.91 L603.37 1048.33 L606.97 1049.71 L610.56 1051.04 L614.16 1052.33 L617.75 1053.57 L621.35 1054.77 L624.94 1055.93 L628.54 1057.04 L632.13 1058.11 L635.73 1059.13 L639.32 1060.11 L642.92 1061.05 L646.51 1061.94 L650.11 1062.79 L653.7 1063.6 L657.3 1064.36 L660.89 1065.08 L664.49 1065.75 L668.08 1066.39 L671.68 1066.99 L675.27 1067.55 L678.87 1068.07 L682.46 1068.54 L686.06 1068.97 L689.65 1069.36 L693.25 1069.71 L696.84 1070.01 L700.44 1070.27 L704.03 1070.49 L707.63 1070.67 L711.22 1070.82 L714.82 1070.94 L718.41 1071.03 L722.01 1071.1 L725.6 1071.14 L729.2 1071.15 L732.79 1071.15 L736.38 1071.12 L739.98 1071.08 L743.58 1071.02 L747.17 1070.94 L750.77 1070.84 L754.36 1070.73 L757.96 1070.6 L761.55 1070.46 L765.15 1070.31 L768.74 1070.15 L772.34 1069.99 L775.93 1069.82 L779.53 1069.64 L783.12 1069.46 L786.72 1069.27 L790.31 1069.08 L793.91 1068.88 L797.5 1068.68 L801.1 1068.48 L804.69 1068.27 L808.29 1068.06 L811.88 1067.86 L815.48 1067.65 L819.07 1067.44 L822.67 1067.24 L826.26 1067.03 L829.86 1066.83 L833.45 1066.62 L837.05 1066.42 L840.64 1066.22 L844.24 1066.02 L847.83 1065.82 L851.43 1065.63 L855.02 1065.43 L858.62 1065.24 L862.21 1065.05 L865.81 1064.86 L869.4 1064.68 L873 1064.49 L876.59 1064.31 L880.19 1064.13 L883.78 1063.96 L887.38 1063.78 L890.97 1063.61 L894.57 1063.44 L898.16 1063.27 L901.76 1063.1 L905.35 1062.94 L908.95 1062.78 L912.54 1062.62 L916.14 1062.46 L919.73 1062.3 L923.33 1062.15 L926.92 1062 L930.52 1061.85 L934.11 1061.71 L937.71 1061.56 L941.3 1061.42 L944.9 1061.28 L948.49 1061.14 L952.09 1061.01 L955.68 1060.87 L959.28 1060.74 L962.87 1060.61 L966.47 1060.48 L970.06 1060.36 L973.66 1060.23 L977.25 1060.11 L980.85 1059.99 L984.44 1059.87 L988.04 1059.76 L991.63 1059.64 L995.23 1059.53 L998.82 1059.42 L1002.42 1059.31 L1006.01 1059.2 L1009.61 1059.1 L1013.2 1059 L1016.8 1058.89 L1020.39 1058.79 L1023.99 1058.69 L1027.58 1058.6 L1031.18 1058.5 L1034.77 1058.41 L1038.37 1058.31 L1041.96 1058.22 L1045.56 1058.13 L1049.15 1058.04 L1052.75 1057.96 L1056.34 1057.87 L1059.94 1057.79 L1063.53 1057.7 L1067.13 1057.62 L1070.72 1057.54 L1074.32 1057.46 L1077.91 1057.39 L1081.51 1057.31 L1085.1 1057.23 L1088.7 1057.16 L1092.29 1057.09 L1095.89 1057.02 L1099.48 1056.95 L1103.08 1056.88 L1106.67 1056.81 L1110.27 1056.74 L1113.86 1056.68 L1117.46 1056.61 L1121.05 1056.55 L1124.65 1056.48 L1128.24 1056.42 L1131.84 1056.36 L1135.43 1056.3 L1139.03 1056.24 L1142.62 1056.18 L1146.22 1056.13 L1149.81 1056.07 L1153.41 1056.02 L1157 1055.96 L1160.6 1055.91 L1164.19 1055.86 L1167.79 1055.81 L1171.38 1055.75 L1174.98 1055.71 L1178.57 1055.66 L1182.17 1055.61 L1185.76 1055.56 L1189.36 1055.51 L1192.95 1055.47 L1196.55 1055.42 L1200.14 1055.38 L1203.74 1055.33 L1207.33 1055.29 L1210.93 1055.25 L1214.52 1055.21 L1218.12 1055.17 L1221.71 1055.13 L1225.31 1055.09 L1228.9 1055.05" stroke="#006400" stroke-width="6.7"/>
<path d="M222.3 950.6 L409.24 950.59 L412.84 950.48 L416.43 950.27 L420.03 949.96 L423.62 949.55 L427.22 949.05 L430.81 948.46 L434.41 947.8 L438 947.05 L441.6 946.24 L445.19 945.36 L448.79 944.44 L452.38 943.46 L455.98 942.44 L459.57 941.38 L463.17 940.29 L466.76 939.17 L470.36 938.02 L473.95 936.84 L477.55 935.64 L481.14 934.43 L484.74 933.2 L488.33 931.96 L491.93 930.7 L495.52 929.45 L499.12 928.19 L502.71 926.93 L506.31 925.67 L509.9 924.41 L513.5 923.16 L517.09 921.91 L520.69 920.66 L524.28 919.43 L527.88 918.2 L531.47 916.99 L535.07 915.78 L538.66 914.59 L542.26 913.41 L545.85 912.25 L549.45 911.11 L553.04 909.99 L556.63 908.89 L560.23 907.81 L563.83 906.75 L567.42 905.7 L571.02 904.68 L574.61 903.67 L578.21 902.68 L581.8 901.7 L585.4 900.73 L588.99 899.78 L592.59 898.85 L596.18 897.92 L599.78 897.01 L603.37 896.1 L606.97 895.22 L610.56 894.35 L614.16 893.5 L617.75 892.67 L621.35 891.85 L624.94 891.06 L628.54 890.29 L632.13 889.55 L635.73 888.83 L639.32 888.13 L642.92 887.46 L646.51 886.82 L650.11 886.2 L653.7 885.62 L657.3 885.06 L660.89 884.54 L664.49 884.04 L668.08 883.57 L671.68 883.12 L675.27 882.7 L678.87 882.3 L682.46 881.93 L686.06 881.58 L689.65 881.26 L693.25 880.96 L696.84 880.68 L700.44 880.42 L704.03 880.19 L707.63 879.97 L711.22 879.78 L714.82 879.6 L718.41 879.43 L722.01 879.28 L725.6 879.15 L729.2 879.03 L732.79 878.92 L736.38 878.82 L739.98 878.73 L743.58 878.66 L747.17 878.6 L750.77 878.54 L754.36 878.5 L757.96 878.46 L761.55 878.44 L765.15 878.41 L768.74 878.4 L772.34 878.39 L775.93 878.38 L779.53 878.38 L783.12 878.39 L786.72 878.41 L790.31 878.43 L793.91 878.46 L797.5 878.5 L801.1 878.54 L804.69 878.59 L808.29 878.64 L811.88 878.69 L815.48 878.75 L819.07 878.8 L822.67 878.86 L826.26 878.92 L829.86 878.98 L833.45 879.05 L837.05 879.11 L840.64 879.18 L844.24 879.25 L847.83 879.32 L851.43 879.38 L855.02 879.45 L858.62 879.52 L862.21 879.6 L865.81 879.67 L869.4 879.74 L873 879.81 L876.59 879.88 L880.19 879.95 L883.78 880.03 L887.38 880.1 L890.97 880.17 L894.57 880.24 L898.16 880.31 L901.76 880.39 L905.35 880.46 L908.95 880.53 L912.54 880.6 L916.14 880.67 L919.73 880.74 L923.33 880.81 L926.92 880.88 L930.52 880.95 L934.11 881.02 L937.71 881.08 L941.3 881.15 L944.9 881.22 L948.49 881.28 L952.09 881.35 L955.68 881.42 L959.28 881.48 L962.87 881.54 L966.47 881.61 L970.06 881.67 L973.66 881.73 L977.25 881.8 L980.85 881.86 L984.44 881.92 L988.04 881.98 L991.63 882.04 L995.23 882.1 L998.82 882.16 L1002.42 882.21 L1006.01 882.27 L1009.61 882.33 L1013.2 882.38 L1016.8 882.44 L1020.39 882.49 L1023.99 882.55 L1027.58 882.6 L1031.18 882.65 L1034.77 882.71 L1038.37 882.76 L1041.96 882.81 L1045.56 882.86 L1049.15 882.91 L1052.75 882.96 L1056.34 883.01 L1059.94 883.06 L1063.53 883.1 L1067.13 883.15 L1070.72 883.2 L1074.32 883.24 L1077.91 883.29 L1081.51 883.33 L1085.1 883.38 L1088.7 883.42 L1092.29 883.47 L1095.89 883.51 L1099.48 883.55 L1103.08 883.59 L1106.67 883.63 L1110.27 883.67 L1113.86 883.71 L1117.46 883.75 L1121.05 883.79 L1124.65 883.83 L1128.24 883.87 L1131.84 883.91 L1135.43 883.95 L1139.03 883.98 L1142.62 884.02 L1146.22 884.06 L1149.81 884.09 L1153.41 884.13 L1157 884.16 L1160.6 884.2 L1164.19 884.23 L1167.79 884.26 L1171.38 884.3 L1174.98 884.33 L1178.57 884.36 L1182.17 884.39 L1185.76 884.42 L1189.36 884.46 L1192.95 884.49 L1196.55 884.52 L1200.14 884.55 L1203.74 884.58 L1207.33 884.6 L1210.93 884.63 L1214.52 884.66 L1218.12 884.69 L1221.71 884.72 L1225.31 884.74 L1228.9 884.77" stroke="#0000ff" stroke-width="4.25" stroke-opacity="0.5" stroke-dasharray="15.7 6.8"/>
<path d="M222.3 950.6 L409.24 950.6 L412.84 950.6 L416.43 950.62 L420.03 950.55 L423.62 950.37 L427.22 950.08 L430.81 949.7 L434.41 949.23 L438 948.69 L441.6 948.08 L445.19 947.42 L448.79 946.72 L452.38 945.98 L455.98 945.21 L459.57 944.42 L463.17 943.6 L466.76 942.78 L470.36 941.94 L473.95 941.09 L477.55 940.24 L481.14 939.39 L484.74 938.54 L488.33 937.69 L491.93 936.85 L495.52 936.03 L499.12 935.21 L502.71 934.42 L506.31 933.63 L509.9 932.87 L513.5 932.11 L517.09 931.37 L520.69 930.63 L524.28 929.91 L527.88 929.2 L531.47 928.49 L535.07 927.8 L538.66 927.11 L542.26 926.42 L545.85 925.75 L549.45 925.1 L553.04 924.46 L556.63 923.84 L560.23 923.23 L563.83 922.64 L567.42 922.06 L571.02 921.5 L574.61 920.95 L578.21 920.43 L581.8 919.91 L585.4 919.41 L588.99 918.93 L592.59 918.47 L596.18 918.02 L599.78 917.58 L603.37 917.16 L606.97 916.75 L610.56 916.35 L614.16 915.97 L617.75 915.6 L621.35 915.25 L624.94 914.91 L628.54 914.58 L632.13 914.27 L635.73 913.97 L639.32 913.69 L642.92 913.43 L646.51 913.18 L650.11 912.94 L653.7 912.72 L657.3 912.52 L660.89 912.34 L664.49 912.17 L668.08 912.01 L671.68 911.87 L675.27 911.75 L678.87 911.64 L682.46 911.54 L686.06 911.46 L689.65 911.39 L693.25 911.33 L696.84 911.29 L700.44 911.26 L704.03 911.24 L707.63 911.22 L711.22 911.22 L714.82 911.22 L718.41 911.23 L722.01 911.24 L725.6 911.27 L729.2 911.29 L732.79 911.33 L736.38 911.37 L739.98 911.42 L743.58 911.47 L747.17 911.53 L750.77 911.59 L754.36 911.66 L757.96 911.74 L761.55 911.83 L765.15 911.91 L768.74 912 L772.34 912.09 L775.93 912.18 L779.53 912.27 L783.12 912.35 L786.72 912.44 L790.31 912.53 L793.91 912.61 L797.5 912.7 L801.1 912.78 L804.69 912.87 L808.29 912.95 L811.88 913.03 L815.48 913.11 L819.07 913.19 L822.67 913.27 L826.26 913.35 L829.86 913.43 L833.45 913.5 L837.05 913.58 L840.64 913.65 L844.24 913.72 L847.83 913.79 L851.43 913.86 L855.02 913.93 L858.62 914 L862.21 914.07 L865.81 914.13 L869.4 914.2 L873 914.26 L876.59 914.32 L880.19 914.39 L883.78 914.45 L887.38 914.51 L890.97 914.57 L894.57 914.62 L898.16 914.68 L901.76 914.74 L905.35 914.79 L908.95 914.85 L912.54 914.9 L916.14 914.95 L919.73 915 L923.33 915.05 L926.92 915.1 L930.52 915.15 L934.11 915.2 L937.71 915.25 L941.3 915.29 L944.9 915.34 L948.49 915.38 L952.09 915.43 L955.68 915.47 L959.28 915.51 L962.87 915.56 L966.47 915.6 L970.06 915.64 L973.66 915.68 L977.25 915.72 L980.85 915.75 L984.44 915.79 L988.04 915.83 L991.63 915.87 L995.23 915.9 L998.82 915.94 L1002.42 915.97 L1006.01 916.01 L1009.61 916.04 L1013.2 916.07 L1016.8 916.1 L1020.39 916.14 L1023.99 916.17 L1027.58 916.2 L1031.18 916.23 L1034.77 916.26 L1038.37 916.29 L1041.96 916.32 L1045.56 916.34 L1049.15 916.37 L1052.75 916.4 L1056.34 916.43 L1059.94 916.45 L1063.53 916.48 L1067.13 916.5 L1070.72 916.53 L1074.32 916.55 L1077.91 916.58 L1081.51 916.6 L1085.1 916.62 L1088.7 916.65 L1092.29 916.67 L1095.89 916.69 L1099.48 916.71 L1103.08 916.73 L1106.67 916.76 L1110.27 916.78 L1113.86 916.8 L1117.46 916.82 L1121.05 916.84 L1124.65 916.86 L1128.24 916.87 L1131.84 916.89 L1135.43 916.91 L1139.03 916.93 L1142.62 916.95 L1146.22 916.96 L1149.81 916.98 L1153.41 917 L1157 917.01 L1160.6 917.03 L1164.19 917.05 L1167.79 917.06 L1171.38 917.08 L1174.98 917.09 L1178.57 917.11 L1182.17 917.12 L1185.76 917.14 L1189.36 917.15 L1192.95 917.16 L1196.55 917.18 L1200.14 917.19 L1203.74 917.21 L1207.33 917.22 L1210.93 917.23 L1214.52 917.24 L1218.12 917.26 L1221.71 917.27 L1225.31 917.28 L1228.9 917.29" stroke="#0000ff" stroke-width="4.25" stroke-opacity="0.5" stroke-dasharray="15.7 6.8"/>
<path d="M222.3 950.6 L409.24 950.57 L412.84 950.23 L416.43 949.53 L420.03 948.51 L423.62 947.18 L427.22 945.56 L430.81 943.66 L434.41 941.5 L438 939.09 L441.6 936.44 L445.19 933.6 L448.79 930.59 L452.38 927.42 L455.98 924.11 L459.57 920.68 L463.17 917.13 L466.76 913.48 L470.36 909.74 L473.95 905.92 L477.55 902.04 L481.14 898.09 L484.74 894.1 L488.33 890.07 L491.93 886 L495.52 881.92 L499.12 877.83 L502.71 873.74 L506.31 869.65 L509.9 865.56 L513.5 861.49 L517.09 857.44 L520.69 853.41 L524.28 849.4 L527.88 845.42 L531.47 841.47 L535.07 837.56 L538.66 833.68 L542.26 829.84 L545.85 826.08 L549.45 822.38 L553.04 818.74 L556.63 815.17 L560.23 811.67 L563.83 808.22 L567.42 804.83 L571.02 801.5 L574.61 798.23 L578.21 795 L581.8 791.83 L585.4 788.7 L588.99 785.61 L592.59 782.57 L596.18 779.56 L599.78 776.59 L603.37 773.67 L606.97 770.79 L610.56 767.97 L614.16 765.21 L617.75 762.51 L621.35 759.87 L624.94 757.3 L628.54 754.8 L632.13 752.38 L635.73 750.04 L639.32 747.78 L642.92 745.6 L646.51 743.51 L650.11 741.52 L653.7 739.62 L657.3 737.82 L660.89 736.12 L664.49 734.5 L668.08 732.97 L671.68 731.52 L675.27 730.14 L678.87 728.85 L682.46 727.64 L686.06 726.51 L689.65 725.46 L693.25 724.48 L696.84 723.58 L700.44 722.76 L704.03 721.99 L707.63 721.3 L711.22 720.66 L714.82 720.07 L718.41 719.54 L722.01 719.05 L725.6 718.61 L729.2 718.22 L732.79 717.86 L736.38 717.55 L739.98 717.27 L743.58 717.03 L747.17 716.82 L750.77 716.65 L754.36 716.5 L757.96 716.39 L761.55 716.3 L765.15 716.23 L768.74 716.18 L772.34 716.14 L775.93 716.13 L779.53 716.13 L783.12 716.16 L786.72 716.2 L790.31 716.27 L793.91 716.37 L797.5 716.5 L801.1 716.64 L804.69 716.79 L808.29 716.96 L811.88 717.13 L815.48 717.31 L819.07 717.49 L822.67 717.68 L826.26 717.88 L829.86 718.08 L833.45 718.29 L837.05 718.5 L840.64 718.72 L844.24 718.94 L847.83 719.16 L851.43 719.38 L855.02 719.61 L858.62 719.84 L862.21 720.07 L865.81 720.3 L869.4 720.53 L873 720.76 L876.59 721 L880.19 721.23 L883.78 721.46 L887.38 721.7 L890.97 721.93 L894.57 722.16 L898.16 722.4 L901.76 722.63 L905.35 722.86 L908.95 723.09 L912.54 723.32 L916.14 723.55 L919.73 723.78 L923.33 724.01 L926.92 724.23 L930.52 724.45 L934.11 724.68 L937.71 724.9 L941.3 725.12 L944.9 725.33 L948.49 725.55 L952.09 725.76 L955.68 725.98 L959.28 726.19 L962.87 726.39 L966.47 726.6 L970.06 726.81 L973.66 727.01 L977.25 727.21 L980.85 727.41 L984.44 727.61 L988.04 727.8 L991.63 728 L995.23 728.19 L998.82 728.38 L1002.42 728.56 L1006.01 728.75 L1009.61 728.93 L1013.2 729.11 L1016.8 729.29 L1020.39 729.47 L1023.99 729.65 L1027.58 729.82 L1031.18 729.99 L1034.77 730.16 L1038.37 730.33 L1041.96 730.5 L1045.56 730.66 L1049.15 730.82 L1052.75 730.98 L1056.34 731.14 L1059.94 731.3 L1063.53 731.45 L1067.13 731.61 L1070.72 731.76 L1074.32 731.91 L1077.91 732.06 L1081.51 732.2 L1085.1 732.35 L1088.7 732.49 L1092.29 732.63 L1095.89 732.77 L1099.48 732.91 L1103.08 733.04 L1106.67 733.18 L1110.27 733.31 L1113.86 733.44 L1117.46 733.57 L1121.05 733.7 L1124.65 733.82 L1128.24 733.95 L1131.84 734.07 L1135.43 734.19 L1139.03 734.31 L1142.62 734.43 L1146.22 734.55 L1149.81 734.66 L1153.41 734.78 L1157 734.89 L1160.6 735 L1164.19 735.11 L1167.79 735.22 L1171.38 735.33 L1174.98 735.43 L1178.57 735.54 L1182.17 735.64 L1185.76 735.74 L1189.36 735.84 L1192.95 735.94 L1196.55 736.04 L1200.14 736.14 L1203.74 736.23 L1207.33 736.33 L1210.93 736.42 L1214.52 736.51 L1218.12 736.61 L1221.71 736.69 L1225.31 736.78 L1228.9 736.87" stroke="#ffa500" stroke-width="4.25" stroke-opacity="0.5" stroke-dasharray="15.7 6.8"/>
<path d="M222.3 950.6 L409.24 950.6 L412.84 950.62 L416.43 950.66 L420.03 950.45 L423.62 949.85 L427.22 948.91 L430.81 947.67 L434.41 946.15 L438 944.39 L441.6 942.42 L445.19 940.29 L448.79 938 L452.38 935.6 L455.98 933.11 L459.57 930.53 L463.17 927.89 L466.76 925.2 L470.36 922.47 L473.95 919.72 L477.55 916.96 L481.14 914.2 L484.74 911.44 L488.33 908.7 L491.93 905.97 L495.52 903.28 L499.12 900.65 L502.71 898.06 L506.31 895.52 L509.9 893.02 L513.5 890.56 L517.09 888.15 L520.69 885.77 L524.28 883.43 L527.88 881.11 L531.47 878.83 L535.07 876.57 L538.66 874.32 L542.26 872.1 L545.85 869.93 L549.45 867.8 L553.04 865.73 L556.63 863.7 L560.23 861.73 L563.83 859.81 L567.42 857.94 L571.02 856.12 L574.61 854.35 L578.21 852.63 L581.8 850.96 L585.4 849.35 L588.99 847.78 L592.59 846.27 L596.18 844.81 L599.78 843.39 L603.37 842.02 L606.97 840.69 L610.56 839.41 L614.16 838.17 L617.75 836.97 L621.35 835.82 L624.94 834.71 L628.54 833.65 L632.13 832.64 L635.73 831.68 L639.32 830.77 L642.92 829.9 L646.51 829.09 L650.11 828.33 L653.7 827.62 L657.3 826.97 L660.89 826.36 L664.49 825.81 L668.08 825.31 L671.68 824.86 L675.27 824.46 L678.87 824.1 L682.46 823.79 L686.06 823.52 L689.65 823.3 L693.25 823.12 L696.84 822.98 L700.44 822.87 L704.03 822.79 L707.63 822.75 L711.22 822.73 L714.82 822.74 L718.41 822.77 L722.01 822.82 L725.6 822.89 L729.2 822.99 L732.79 823.1 L736.38 823.23 L739.98 823.38 L743.58 823.55 L747.17 823.74 L750.77 823.95 L754.36 824.18 L757.96 824.44 L761.55 824.71 L765.15 825 L768.74 825.28 L772.34 825.57 L775.93 825.85 L779.53 826.14 L783.12 826.42 L786.72 826.71 L790.31 826.99 L793.91 827.27 L797.5 827.54 L801.1 827.82 L804.69 828.09 L808.29 828.36 L811.88 828.62 L815.48 828.89 L819.07 829.15 L822.67 829.4 L826.26 829.65 L829.86 829.9 L833.45 830.15 L837.05 830.39 L840.64 830.63 L844.24 830.86 L847.83 831.1 L851.43 831.32 L855.02 831.55 L858.62 831.77 L862.21 831.99 L865.81 832.2 L869.4 832.41 L873 832.62 L876.59 832.82 L880.19 833.02 L883.78 833.22 L887.38 833.41 L890.97 833.61 L894.57 833.79 L898.16 833.98 L901.76 834.16 L905.35 834.34 L908.95 834.51 L912.54 834.69 L916.14 834.86 L919.73 835.02 L923.33 835.19 L926.92 835.35 L930.52 835.51 L934.11 835.66 L937.71 835.82 L941.3 835.97 L944.9 836.11 L948.49 836.26 L952.09 836.4 L955.68 836.54 L959.28 836.68 L962.87 836.82 L966.47 836.95 L970.06 837.08 L973.66 837.21 L977.25 837.34 L980.85 837.46 L984.44 837.59 L988.04 837.71 L991.63 837.83 L995.23 837.94 L998.82 838.06 L1002.42 838.17 L1006.01 838.28 L1009.61 838.39 L1013.2 838.5 L1016.8 838.6 L1020.39 838.7 L1023.99 838.81 L1027.58 838.9 L1031.18 839 L1034.77 839.1 L1038.37 839.19 L1041.96 839.29 L1045.56 839.38 L1049.15 839.47 L1052.75 839.56 L1056.34 839.64 L1059.94 839.73 L1063.53 839.81 L1067.13 839.9 L1070.72 839.98 L1074.32 840.06 L1077.91 840.13 L1081.51 840.21 L1085.1 840.29 L1088.7 840.36 L1092.29 840.43 L1095.89 840.51 L1099.48 840.58 L1103.08 840.65 L1106.67 840.72 L1110.27 840.78 L1113.86 840.85 L1117.46 840.91 L1121.05 840.98 L1124.65 841.04 L1128.24 841.1 L1131.84 841.16 L1135.43 841.22 L1139.03 841.28 L1142.62 841.34 L1146.22 841.39 L1149.81 841.45 L1153.41 841.5 L1157 841.56 L1160.6 841.61 L1164.19 841.66 L1167.79 841.71 L1171.38 841.76 L1174.98 841.81 L1178.57 841.86 L1182.17 841.91 L1185.76 841.95 L1189.36 842 L1192.95 842.04 L1196.55 842.09 L1200.14 842.13 L1203.74 842.18 L1207.33 842.22 L1210.93 842.26 L1214.52 842.3 L1218.12 842.34 L1221.71 842.38 L1225.31 842.42 L1228.9 842.46" stroke="#ffa500" stroke-width="4.25" stroke-opacity="0.5" stroke-dasharray="15.7 6.8"/>
<path d="M222.3 950.6 L409.24 950.62 L412.84 950.86 L416.43 951.34 L420.03 952.06 L423.62 952.98 L427.22 954.12 L430.81 955.44 L434.41 956.95 L438 958.64 L441.6 960.48 L445.19 962.46 L448.79 964.57 L452.38 966.78 L455.98 969.09 L459.57 971.48 L463.17 973.96 L466.76 976.51 L470.36 979.12 L473.95 981.78 L477.55 984.5 L481.14 987.25 L484.74 990.04 L488.33 992.85 L491.93 995.69 L495.52 998.54 L499.12 1001.39 L502.71 1004.25 L506.31 1007.11 L509.9 1009.96 L513.5 1012.8 L517.09 1015.63 L520.69 1018.44 L524.28 1021.24 L527.88 1024.02 L531.47 1026.77 L535.07 1029.5 L538.66 1032.21 L542.26 1034.89 L545.85 1037.52 L549.45 1040.1 L553.04 1042.64 L556.63 1045.13 L560.23 1047.57 L563.83 1049.98 L567.42 1052.34 L571.02 1054.67 L574.61 1056.96 L578.21 1059.21 L581.8 1061.42 L585.4 1063.61 L588.99 1065.76 L592.59 1067.89 L596.18 1069.98 L599.78 1072.06 L603.37 1074.1 L606.97 1076.11 L610.56 1078.07 L614.16 1080 L617.75 1081.89 L621.35 1083.73 L624.94 1085.52 L628.54 1087.27 L632.13 1088.96 L635.73 1090.59 L639.32 1092.17 L642.92 1093.69 L646.51 1095.15 L650.11 1096.54 L653.7 1097.87 L657.3 1099.12 L660.89 1100.31 L664.49 1101.44 L668.08 1102.51 L671.68 1103.52 L675.27 1104.48 L678.87 1105.38 L682.46 1106.22 L686.06 1107.01 L689.65 1107.75 L693.25 1108.43 L696.84 1109.06 L700.44 1109.64 L704.03 1110.17 L707.63 1110.65 L711.22 1111.1 L714.82 1111.51 L718.41 1111.88 L722.01 1112.22 L725.6 1112.53 L729.2 1112.8 L732.79 1113.05 L736.38 1113.27 L739.98 1113.46 L743.58 1113.63 L747.17 1113.78 L750.77 1113.9 L754.36 1114 L757.96 1114.08 L761.55 1114.14 L765.15 1114.19 L768.74 1114.23 L772.34 1114.25 L775.93 1114.26 L779.53 1114.26 L783.12 1114.24 L786.72 1114.21 L790.31 1114.16 L793.91 1114.09 L797.5 1114 L801.1 1113.9 L804.69 1113.8 L808.29 1113.68 L811.88 1113.56 L815.48 1113.44 L819.07 1113.31 L822.67 1113.18 L826.26 1113.04 L829.86 1112.9 L833.45 1112.75 L837.05 1112.6 L840.64 1112.45 L844.24 1112.3 L847.83 1112.15 L851.43 1111.99 L855.02 1111.83 L858.62 1111.67 L862.21 1111.51 L865.81 1111.35 L869.4 1111.19 L873 1111.03 L876.59 1110.86 L880.19 1110.7 L883.78 1110.54 L887.38 1110.37 L890.97 1110.21 L894.57 1110.05 L898.16 1109.89 L901.76 1109.72 L905.35 1109.56 L908.95 1109.4 L912.54 1109.24 L916.14 1109.08 L919.73 1108.92 L923.33 1108.76 L926.92 1108.61 L930.52 1108.45 L934.11 1108.29 L937.71 1108.14 L941.3 1107.99 L944.9 1107.84 L948.49 1107.69 L952.09 1107.54 L955.68 1107.39 L959.28 1107.24 L962.87 1107.1 L966.47 1106.95 L970.06 1106.81 L973.66 1106.67 L977.25 1106.53 L980.85 1106.39 L984.44 1106.25 L988.04 1106.11 L991.63 1105.98 L995.23 1105.84 L998.82 1105.71 L1002.42 1105.58 L1006.01 1105.45 L1009.61 1105.32 L1013.2 1105.2 L1016.8 1105.07 L1020.39 1104.95 L1023.99 1104.83 L1027.58 1104.7 L1031.18 1104.58 L1034.77 1104.47 L1038.37 1104.35 L1041.96 1104.23 L1045.56 1104.12 L1049.15 1104 L1052.75 1103.89 L1056.34 1103.78 L1059.94 1103.67 L1063.53 1103.56 L1067.13 1103.46 L1070.72 1103.35 L1074.32 1103.25 L1077.91 1103.14 L1081.51 1103.04 L1085.1 1102.94 L1088.7 1102.84 L1092.29 1102.74 L1095.89 1102.65 L1099.48 1102.55 L1103.08 1102.46 L1106.67 1102.36 L1110.27 1102.27 L1113.86 1102.18 L1117.46 1102.09 L1121.05 1102 L1124.65 1101.91 L1128.24 1101.82 L1131.84 1101.74 L1135.43 1101.65 L1139.03 1101.57 L1142.62 1101.49 L1146.22 1101.4 L1149.81 1101.32 L1153.41 1101.24 L1157 1101.17 L1160.6 1101.09 L1164.19 1101.01 L1167.79 1100.94 L1171.38 1100.86 L1174.98 1100.79 L1178.57 1100.71 L1182.17 1100.64 L1185.76 1100.57 L1189.36 1100.5 L1192.95 1100.43 L1196.55 1100.36 L1200.14 1100.29 L1203.74 1100.23 L1207.33 1100.16 L1210.93 1100.1 L1214.52 1100.03 L1218.12 1099.97 L1221.71 1099.91 L1225.31 1099.84 L1228.9 1099.78" stroke="#006400" stroke-width="4.25" stroke-opacity="0.5" stroke-dasharray="15.7 6.8"/>
<path d="M222.3 950.6 L409.24 950.6 L412.84 950.59 L416.43 950.56 L420.03 950.7 L423.62 951.12 L427.22 951.78 L430.81 952.65 L434.41 953.71 L438 954.93 L441.6 956.31 L445.19 957.8 L448.79 959.39 L452.38 961.07 L455.98 962.81 L459.57 964.61 L463.17 966.45 L466.76 968.33 L470.36 970.23 L473.95 972.15 L477.55 974.08 L481.14 976.01 L484.74 977.93 L488.33 979.85 L491.93 981.75 L495.52 983.63 L499.12 985.47 L502.71 987.27 L506.31 989.05 L509.9 990.79 L513.5 992.51 L517.09 994.19 L520.69 995.85 L524.28 997.49 L527.88 999.1 L531.47 1000.7 L535.07 1002.28 L538.66 1003.84 L542.26 1005.39 L545.85 1006.91 L549.45 1008.39 L553.04 1009.84 L556.63 1011.25 L560.23 1012.63 L563.83 1013.97 L567.42 1015.28 L571.02 1016.55 L574.61 1017.78 L578.21 1018.98 L581.8 1020.15 L585.4 1021.27 L588.99 1022.37 L592.59 1023.42 L596.18 1024.44 L599.78 1025.43 L603.37 1026.39 L606.97 1027.31 L610.56 1028.21 L614.16 1029.08 L617.75 1029.91 L621.35 1030.72 L624.94 1031.49 L628.54 1032.23 L632.13 1032.93 L635.73 1033.61 L639.32 1034.24 L642.92 1034.85 L646.51 1035.41 L650.11 1035.94 L653.7 1036.44 L657.3 1036.9 L660.89 1037.32 L664.49 1037.7 L668.08 1038.05 L671.68 1038.37 L675.27 1038.65 L678.87 1038.9 L682.46 1039.11 L686.06 1039.3 L689.65 1039.46 L693.25 1039.58 L696.84 1039.68 L700.44 1039.76 L704.03 1039.81 L707.63 1039.84 L711.22 1039.85 L714.82 1039.85 L718.41 1039.83 L722.01 1039.79 L725.6 1039.74 L729.2 1039.67 L732.79 1039.6 L736.38 1039.5 L739.98 1039.4 L743.58 1039.28 L747.17 1039.15 L750.77 1039 L754.36 1038.84 L757.96 1038.66 L761.55 1038.47 L765.15 1038.27 L768.74 1038.07 L772.34 1037.87 L775.93 1037.67 L779.53 1037.47 L783.12 1037.28 L786.72 1037.08 L790.31 1036.88 L793.91 1036.69 L797.5 1036.49 L801.1 1036.3 L804.69 1036.11 L808.29 1035.92 L811.88 1035.74 L815.48 1035.56 L819.07 1035.38 L822.67 1035.2 L826.26 1035.02 L829.86 1034.85 L833.45 1034.68 L837.05 1034.51 L840.64 1034.34 L844.24 1034.18 L847.83 1034.01 L851.43 1033.86 L855.02 1033.7 L858.62 1033.54 L862.21 1033.39 L865.81 1033.24 L869.4 1033.1 L873 1032.95 L876.59 1032.81 L880.19 1032.67 L883.78 1032.53 L887.38 1032.4 L890.97 1032.26 L894.57 1032.13 L898.16 1032 L901.76 1031.88 L905.35 1031.75 L908.95 1031.63 L912.54 1031.51 L916.14 1031.39 L919.73 1031.27 L923.33 1031.16 L926.92 1031.05 L930.52 1030.94 L934.11 1030.83 L937.71 1030.72 L941.3 1030.61 L944.9 1030.51 L948.49 1030.41 L952.09 1030.31 L955.68 1030.21 L959.28 1030.11 L962.87 1030.02 L966.47 1029.93 L970.06 1029.83 L973.66 1029.74 L977.25 1029.66 L980.85 1029.57 L984.44 1029.48 L988.04 1029.4 L991.63 1029.32 L995.23 1029.24 L998.82 1029.16 L1002.42 1029.08 L1006.01 1029 L1009.61 1028.92 L1013.2 1028.85 L1016.8 1028.78 L1020.39 1028.7 L1023.99 1028.63 L1027.58 1028.56 L1031.18 1028.49 L1034.77 1028.43 L1038.37 1028.36 L1041.96 1028.3 L1045.56 1028.23 L1049.15 1028.17 L1052.75 1028.11 L1056.34 1028.05 L1059.94 1027.99 L1063.53 1027.93 L1067.13 1027.87 L1070.72 1027.82 L1074.32 1027.76 L1077.91 1027.7 L1081.51 1027.65 L1085.1 1027.6 L1088.7 1027.55 L1092.29 1027.5 L1095.89 1027.45 L1099.48 1027.4 L1103.08 1027.35 L1106.67 1027.3 L1110.27 1027.25 L1113.86 1027.21 L1117.46 1027.16 L1121.05 1027.12 L1124.65 1027.07 L1128.24 1027.03 L1131.84 1026.99 L1135.43 1026.95 L1139.03 1026.91 L1142.62 1026.87 L1146.22 1026.83 L1149.81 1026.79 L1153.41 1026.75 L1157 1026.71 L1160.6 1026.68 L1164.19 1026.64 L1167.79 1026.6 L1171.38 1026.57 L1174.98 1026.53 L1178.57 1026.5 L1182.17 1026.47 L1185.76 1026.44 L1189.36 1026.4 L1192.95 1026.37 L1196.55 1026.34 L1200.14 1026.31 L1203.74 1026.28 L1207.33 1026.25 L1210.93 1026.22 L1214.52 1026.19 L1218.12 1026.17 L1221.71 1026.14 L1225.31 1026.11 L1228.9 1026.09" stroke="#006400" stroke-width="4.25" stroke-opacity="0.5" stroke-dasharray="15.7 6.8"/>
</g>
<line x1="222.3" y1="1136.3" x2="222.3" y2="1151.5" stroke="#000" stroke-width="3.9"/>
<text x="222.3" y="1192" font-size="34.2" text-anchor="middle">2010</text>
<line x1="366.1" y1="1136.3" x2="366.1" y2="1151.5" stroke="#000" stroke-width="3.9"/>
<text x="366.1" y="1192" font-size="34.2" text-anchor="middle">2020</text>
<line x1="509.9" y1="1136.3" x2="509.9" y2="1151.5" stroke="#000" stroke-width="3.9"/>
<text x="509.9" y="1192" font-size="34.2" text-anchor="middle">2030</text>
<line x1="653.7" y1="1136.3" x2="653.7" y2="1151.5" stroke="#000" stroke-width="3.9"/>
<text x="653.7" y="1192" font-size="34.2" text-anchor="middle">2040</text>
<line x1="797.5" y1="1136.3" x2="797.5" y2="1151.5" stroke="#000" stroke-width="3.9"/>
<text x="797.5" y="1192" font-size="34.2" text-anchor="middle">2050</text>
<line x1="941.3" y1="1136.3" x2="941.3" y2="1151.5" stroke="#000" stroke-width="3.9"/>
<text x="941.3" y="1192" font-size="34.2" text-anchor="middle">2060</text>
<line x1="1085.1" y1="1136.3" x2="1085.1" y2="1151.5" stroke="#000" stroke-width="3.9"/>
<text x="1085.1" y="1192" font-size="34.2" text-anchor="middle">2070</text>
<line x1="1228.9" y1="1136.3" x2="1228.9" y2="1151.5" stroke="#000" stroke-width="3.9"/>
<text x="1228.9" y="1192" font-size="34.2" text-anchor="middle">2080</text>
<line x1="207.1" y1="703.27" x2="222.3" y2="703.27" stroke="#000" stroke-width="3.9"/>
<text x="192.8" y="716.27" font-size="34.2" text-anchor="end">0.010</text>
<line x1="207.1" y1="826.94" x2="222.3" y2="826.94" stroke="#000" stroke-width="3.9"/>
<text x="192.8" y="839.94" font-size="34.2" text-anchor="end">0.005</text>
<line x1="207.1" y1="950.6" x2="222.3" y2="950.6" stroke="#000" stroke-width="3.9"/>
<text x="192.8" y="963.6" font-size="34.2" text-anchor="end">0.000</text>
<line x1="207.1" y1="1074.27" x2="222.3" y2="1074.27" stroke="#000" stroke-width="3.9"/>
<text x="192.8" y="1087.27" font-size="34.2" text-anchor="end">−0.005</text>
<rect x="222.3" y="678.8" width="1006.6" height="457.5" fill="none" stroke="#000" stroke-width="3.9"/>
<text transform="translate(41 908.15) rotate(-90) scale(1 1.026)" font-size="42.75" text-anchor="middle">K</text>
<g clip-path="url(#c2)" fill="none" stroke-linejoin="round">
<path d="M222.3 1568.3 L409.24 1568.3 L412.84 1568.22 L416.43 1568.02 L420.03 1567.72 L423.62 1567.31 L427.22 1566.81 L430.81 1566.22 L434.41 1565.54 L438 1564.79 L441.6 1563.95 L445.19 1563.06 L448.79 1562.11 L452.38 1561.11 L455.98 1560.07 L459.57 1558.98 L463.17 1557.86 L466.76 1556.7 L470.36 1555.52 L473.95 1554.31 L477.55 1553.08 L481.14 1551.84 L484.74 1550.57 L488.33 1549.3 L491.93 1548.01 L495.52 1546.73 L499.12 1545.46 L502.71 1544.19 L506.31 1542.94 L509.9 1541.69 L513.5 1540.46 L517.09 1539.23 L520.69 1538.01 L524.28 1536.8 L527.88 1535.6 L531.47 1534.41 L535.07 1533.22 L538.66 1532.04 L542.26 1530.86 L545.85 1529.71 L549.45 1528.57 L553.04 1527.45 L556.63 1526.35 L560.23 1525.27 L563.83 1524.21 L567.42 1523.16 L571.02 1522.12 L574.61 1521.11 L578.21 1520.1 L581.8 1519.11 L585.4 1518.13 L588.99 1517.16 L592.59 1516.2 L596.18 1515.26 L599.78 1514.32 L603.37 1513.39 L606.97 1512.48 L610.56 1511.58 L614.16 1510.69 L617.75 1509.83 L621.35 1508.98 L624.94 1508.15 L628.54 1507.34 L632.13 1506.55 L635.73 1505.79 L639.32 1505.05 L642.92 1504.33 L646.51 1503.64 L650.11 1502.98 L653.7 1502.35 L657.3 1501.75 L660.89 1501.18 L664.49 1500.63 L668.08 1500.11 L671.68 1499.62 L675.27 1499.15 L678.87 1498.71 L682.46 1498.3 L686.06 1497.9 L689.65 1497.54 L693.25 1497.19 L696.84 1496.87 L700.44 1496.58 L704.03 1496.3 L707.63 1496.05 L711.22 1495.81 L714.82 1495.59 L718.41 1495.39 L722.01 1495.2 L725.6 1495.03 L729.2 1494.88 L732.79 1494.74 L736.38 1494.61 L739.98 1494.5 L743.58 1494.39 L747.17 1494.3 L750.77 1494.22 L754.36 1494.16 L757.96 1494.1 L761.55 1494.05 L765.15 1494.01 L768.74 1493.98 L772.34 1493.95 L775.93 1493.93 L779.53 1493.91 L783.12 1493.91 L786.72 1493.91 L790.31 1493.91 L793.91 1493.93 L797.5 1493.95 L801.1 1493.97 L804.69 1494 L808.29 1494.03 L811.88 1494.07 L815.48 1494.1 L819.07 1494.14 L822.67 1494.18 L826.26 1494.22 L829.86 1494.27 L833.45 1494.31 L837.05 1494.35 L840.64 1494.4 L844.24 1494.45 L847.83 1494.49 L851.43 1494.54 L855.02 1494.59 L858.62 1494.64 L862.21 1494.69 L865.81 1494.74 L869.4 1494.79 L873 1494.84 L876.59 1494.89 L880.19 1494.94 L883.78 1494.99 L887.38 1495.04 L890.97 1495.09 L894.57 1495.14 L898.16 1495.19 L901.76 1495.24 L905.35 1495.29 L908.95 1495.34 L912.54 1495.39 L916.14 1495.43 L919.73 1495.48 L923.33 1495.53 L926.92 1495.58 L930.52 1495.62 L934.11 1495.67 L937.71 1495.71 L941.3 1495.76 L944.9 1495.8 L948.49 1495.85 L952.09 1495.89 L955.68 1495.93 L959.28 1495.97 L962.87 1496.02 L966.47 1496.06 L970.06 1496.1 L973.66 1496.14 L977.25 1496.18 L980.85 1496.22 L984.44 1496.25 L988.04 1496.29 L991.63 1496.33 L995.23 1496.37 L998.82 1496.4 L1002.42 1496.44 L1006.01 1496.47 L1009.61 1496.51 L1013.2 1496.54 L1016.8 1496.58 L1020.39 1496.61 L1023.99 1496.64 L1027.58 1496.67 L1031.18 1496.7 L1034.77 1496.73 L1038.37 1496.77 L1041.96 1496.8 L1045.56 1496.82 L1049.15 1496.85 L1052.75 1496.88 L1056.34 1496.91 L1059.94 1496.94 L1063.53 1496.96 L1067.13 1496.99 L1070.72 1497.02 L1074.32 1497.04 L1077.91 1497.07 L1081.51 1497.09 L1085.1 1497.12 L1088.7 1497.14 L1092.29 1497.17 L1095.89 1497.19 L1099.48 1497.21 L1103.08 1497.23 L1106.67 1497.26 L1110.27 1497.28 L1113.86 1497.3 L1117.46 1497.32 L1121.05 1497.34 L1124.65 1497.36 L1128.24 1497.38 L1131.84 1497.4 L1135.43 1497.42 L1139.03 1497.44 L1142.62 1497.45 L1146.22 1497.47 L1149.81 1497.49 L1153.41 1497.51 L1157 1497.52 L1160.6 1497.54 L1164.19 1497.56 L1167.79 1497.57 L1171.38 1497.59 L1174.98 1497.61 L1178.57 1497.62 L1182.17 1497.64 L1185.76 1497.65 L1189.36 1497.67 L1192.95 1497.68 L1196.55 1497.69 L1200.14 1497.71 L1203.74 1497.72 L1207.33 1497.73 L1210.93 1497.75 L1214.52 1497.76 L1218.12 1497.77 L1221.71 1497.78 L1225.31 1497.8 L1228.9 1497.81 L1228.9 1532.21 L1225.31 1532.21 L1221.71 1532.2 L1218.12 1532.2 L1214.52 1532.2 L1210.93 1532.19 L1207.33 1532.19 L1203.74 1532.19 L1200.14 1532.18 L1196.55 1532.18 L1192.95 1532.18 L1189.36 1532.17 L1185.76 1532.17 L1182.17 1532.17 L1178.57 1532.16 L1174.98 1532.16 L1171.38 1532.15 L1167.79 1532.15 L1164.19 1532.14 L1160.6 1532.14 L1157 1532.13 L1153.41 1532.13 L1149.81 1532.12 L1146.22 1532.12 L1142.62 1532.11 L1139.03 1532.11 L1135.43 1532.1 L1131.84 1532.09 L1128.24 1532.09 L1124.65 1532.08 L1121.05 1532.08 L1117.46 1532.07 L1113.86 1532.06 L1110.27 1532.05 L1106.67 1532.05 L1103.08 1532.04 L1099.48 1532.03 L1095.89 1532.02 L1092.29 1532.02 L1088.7 1532.01 L1085.1 1532 L1081.51 1531.99 L1077.91 1531.98 L1074.32 1531.97 L1070.72 1531.96 L1067.13 1531.95 L1063.53 1531.94 L1059.94 1531.93 L1056.34 1531.92 L1052.75 1531.91 L1049.15 1531.89 L1045.56 1531.88 L1041.96 1531.87 L1038.37 1531.86 L1034.77 1531.84 L1031.18 1531.83 L1027.58 1531.82 L1023.99 1531.8 L1020.39 1531.79 L1016.8 1531.77 L1013.2 1531.76 L1009.61 1531.74 L1006.01 1531.72 L1002.42 1531.71 L998.82 1531.69 L995.23 1531.67 L991.63 1531.65 L988.04 1531.63 L984.44 1531.61 L980.85 1531.59 L977.25 1531.57 L973.66 1531.55 L970.06 1531.53 L966.47 1531.5 L962.87 1531.48 L959.28 1531.46 L955.68 1531.43 L952.09 1531.41 L948.49 1531.38 L944.9 1531.35 L941.3 1531.32 L937.71 1531.3 L934.11 1531.27 L930.52 1531.24 L926.92 1531.2 L923.33 1531.17 L919.73 1531.14 L916.14 1531.1 L912.54 1531.07 L908.95 1531.03 L905.35 1531 L901.76 1530.96 L898.16 1530.92 L894.57 1530.88 L890.97 1530.84 L887.38 1530.8 L883.78 1530.75 L880.19 1530.71 L876.59 1530.66 L873 1530.61 L869.4 1530.57 L865.81 1530.52 L862.21 1530.47 L858.62 1530.41 L855.02 1530.36 L851.43 1530.3 L847.83 1530.25 L844.24 1530.19 L840.64 1530.13 L837.05 1530.07 L833.45 1530.01 L829.86 1529.94 L826.26 1529.88 L822.67 1529.81 L819.07 1529.74 L815.48 1529.67 L811.88 1529.6 L808.29 1529.53 L804.69 1529.46 L801.1 1529.38 L797.5 1529.31 L793.91 1529.23 L790.31 1529.16 L786.72 1529.09 L783.12 1529.02 L779.53 1528.95 L775.93 1528.89 L772.34 1528.82 L768.74 1528.76 L765.15 1528.7 L761.55 1528.63 L757.96 1528.57 L754.36 1528.51 L750.77 1528.46 L747.17 1528.4 L743.58 1528.35 L739.98 1528.31 L736.38 1528.27 L732.79 1528.24 L729.2 1528.2 L725.6 1528.18 L722.01 1528.16 L718.41 1528.15 L714.82 1528.15 L711.22 1528.15 L707.63 1528.17 L704.03 1528.19 L700.44 1528.23 L696.84 1528.28 L693.25 1528.34 L689.65 1528.42 L686.06 1528.51 L682.46 1528.61 L678.87 1528.73 L675.27 1528.86 L671.68 1529.01 L668.08 1529.17 L664.49 1529.35 L660.89 1529.54 L657.3 1529.75 L653.7 1529.98 L650.11 1530.22 L646.51 1530.49 L642.92 1530.77 L639.32 1531.06 L635.73 1531.38 L632.13 1531.71 L628.54 1532.05 L624.94 1532.41 L621.35 1532.78 L617.75 1533.16 L614.16 1533.55 L610.56 1533.96 L606.97 1534.38 L603.37 1534.8 L599.78 1535.24 L596.18 1535.68 L592.59 1536.14 L588.99 1536.6 L585.4 1537.07 L581.8 1537.55 L578.21 1538.05 L574.61 1538.55 L571.02 1539.07 L567.42 1539.6 L563.83 1540.15 L560.23 1540.71 L556.63 1541.29 L553.04 1541.88 L549.45 1542.49 L545.85 1543.12 L542.26 1543.76 L538.66 1544.43 L535.07 1545.1 L531.47 1545.79 L527.88 1546.48 L524.28 1547.19 L520.69 1547.91 L517.09 1548.64 L513.5 1549.39 L509.9 1550.15 L506.31 1550.93 L502.71 1551.73 L499.12 1552.55 L495.52 1553.38 L491.93 1554.23 L488.33 1555.1 L484.74 1555.97 L481.14 1556.85 L477.55 1557.73 L473.95 1558.6 L470.36 1559.47 L466.76 1560.34 L463.17 1561.19 L459.57 1562.02 L455.98 1562.84 L452.38 1563.62 L448.79 1564.38 L445.19 1565.09 L441.6 1565.76 L438 1566.38 L434.41 1566.92 L430.81 1567.39 L427.22 1567.78 L423.62 1568.07 L420.03 1568.25 L416.43 1568.32 L412.84 1568.3 L409.24 1568.3 L222.3 1568.3Z" fill="#0000ff" fill-opacity="0.2" stroke="none"/>
<path d="M222.3 1568.3 L409.24 1568.29 L412.84 1568.03 L416.43 1567.39 L420.03 1566.4 L423.62 1565.09 L427.22 1563.46 L430.81 1561.54 L434.41 1559.35 L438 1556.89 L441.6 1554.19 L445.19 1551.29 L448.79 1548.21 L452.38 1544.96 L455.98 1541.57 L459.57 1538.04 L463.17 1534.4 L466.76 1530.65 L470.36 1526.81 L473.95 1522.89 L477.55 1518.9 L481.14 1514.85 L484.74 1510.74 L488.33 1506.6 L491.93 1502.43 L495.52 1498.27 L499.12 1494.13 L502.71 1490.03 L506.31 1485.96 L509.9 1481.91 L513.5 1477.9 L517.09 1473.92 L520.69 1469.97 L524.28 1466.04 L527.88 1462.14 L531.47 1458.26 L535.07 1454.4 L538.66 1450.57 L542.26 1446.75 L545.85 1443 L549.45 1439.31 L553.04 1435.68 L556.63 1432.11 L560.23 1428.6 L563.83 1425.14 L567.42 1421.73 L571.02 1418.38 L574.61 1415.07 L578.21 1411.81 L581.8 1408.59 L585.4 1405.41 L588.99 1402.27 L592.59 1399.16 L596.18 1396.08 L599.78 1393.03 L603.37 1390.02 L606.97 1387.06 L610.56 1384.13 L614.16 1381.26 L617.75 1378.45 L621.35 1375.69 L624.94 1373 L628.54 1370.37 L632.13 1367.82 L635.73 1365.34 L639.32 1362.93 L642.92 1360.61 L646.51 1358.38 L650.11 1356.23 L653.7 1354.18 L657.3 1352.22 L660.89 1350.36 L664.49 1348.59 L668.08 1346.91 L671.68 1345.31 L675.27 1343.8 L678.87 1342.36 L682.46 1341.01 L686.06 1339.74 L689.65 1338.55 L693.25 1337.43 L696.84 1336.39 L700.44 1335.43 L704.03 1334.54 L707.63 1333.71 L711.22 1332.94 L714.82 1332.23 L718.41 1331.58 L722.01 1330.98 L725.6 1330.43 L729.2 1329.92 L732.79 1329.46 L736.38 1329.05 L739.98 1328.68 L743.58 1328.34 L747.17 1328.05 L750.77 1327.79 L754.36 1327.57 L757.96 1327.39 L761.55 1327.23 L765.15 1327.1 L768.74 1326.99 L772.34 1326.91 L775.93 1326.84 L779.53 1326.79 L783.12 1326.76 L786.72 1326.76 L790.31 1326.78 L793.91 1326.82 L797.5 1326.89 L801.1 1326.98 L804.69 1327.07 L808.29 1327.18 L811.88 1327.29 L815.48 1327.4 L819.07 1327.53 L822.67 1327.66 L826.26 1327.79 L829.86 1327.93 L833.45 1328.07 L837.05 1328.22 L840.64 1328.37 L844.24 1328.52 L847.83 1328.67 L851.43 1328.83 L855.02 1328.99 L858.62 1329.15 L862.21 1329.31 L865.81 1329.47 L869.4 1329.63 L873 1329.8 L876.59 1329.96 L880.19 1330.12 L883.78 1330.29 L887.38 1330.45 L890.97 1330.61 L894.57 1330.77 L898.16 1330.93 L901.76 1331.09 L905.35 1331.25 L908.95 1331.41 L912.54 1331.57 L916.14 1331.72 L919.73 1331.88 L923.33 1332.03 L926.92 1332.18 L930.52 1332.33 L934.11 1332.48 L937.71 1332.63 L941.3 1332.77 L944.9 1332.92 L948.49 1333.06 L952.09 1333.2 L955.68 1333.34 L959.28 1333.48 L962.87 1333.61 L966.47 1333.74 L970.06 1333.88 L973.66 1334.01 L977.25 1334.13 L980.85 1334.26 L984.44 1334.39 L988.04 1334.51 L991.63 1334.63 L995.23 1334.75 L998.82 1334.87 L1002.42 1334.98 L1006.01 1335.1 L1009.61 1335.21 L1013.2 1335.32 L1016.8 1335.43 L1020.39 1335.53 L1023.99 1335.64 L1027.58 1335.74 L1031.18 1335.85 L1034.77 1335.95 L1038.37 1336.04 L1041.96 1336.14 L1045.56 1336.24 L1049.15 1336.33 L1052.75 1336.42 L1056.34 1336.51 L1059.94 1336.6 L1063.53 1336.69 L1067.13 1336.78 L1070.72 1336.86 L1074.32 1336.95 L1077.91 1337.03 L1081.51 1337.11 L1085.1 1337.19 L1088.7 1337.27 L1092.29 1337.34 L1095.89 1337.42 L1099.48 1337.49 L1103.08 1337.56 L1106.67 1337.64 L1110.27 1337.71 L1113.86 1337.77 L1117.46 1337.84 L1121.05 1337.91 L1124.65 1337.97 L1128.24 1338.04 L1131.84 1338.1 L1135.43 1338.16 L1139.03 1338.22 L1142.62 1338.28 L1146.22 1338.34 L1149.81 1338.4 L1153.41 1338.45 L1157 1338.51 L1160.6 1338.56 L1164.19 1338.62 L1167.79 1338.67 L1171.38 1338.72 L1174.98 1338.77 L1178.57 1338.82 L1182.17 1338.87 L1185.76 1338.92 L1189.36 1338.97 L1192.95 1339.01 L1196.55 1339.06 L1200.14 1339.1 L1203.74 1339.15 L1207.33 1339.19 L1210.93 1339.23 L1214.52 1339.27 L1218.12 1339.31 L1221.71 1339.35 L1225.31 1339.39 L1228.9 1339.43 L1228.9 1451.12 L1225.31 1451.11 L1221.71 1451.11 L1218.12 1451.1 L1214.52 1451.09 L1210.93 1451.08 L1207.33 1451.06 L1203.74 1451.05 L1200.14 1451.04 L1196.55 1451.03 L1192.95 1451.02 L1189.36 1451.01 L1185.76 1450.99 L1182.17 1450.98 L1178.57 1450.97 L1174.98 1450.95 L1171.38 1450.94 L1167.79 1450.92 L1164.19 1450.91 L1160.6 1450.89 L1157 1450.88 L1153.41 1450.86 L1149.81 1450.84 L1146.22 1450.83 L1142.62 1450.81 L1139.03 1450.79 L1135.43 1450.77 L1131.84 1450.75 L1128.24 1450.73 L1124.65 1450.71 L1121.05 1450.69 L1117.46 1450.67 L1113.86 1450.64 L1110.27 1450.62 L1106.67 1450.6 L1103.08 1450.57 L1099.48 1450.55 L1095.89 1450.52 L1092.29 1450.49 L1088.7 1450.46 L1085.1 1450.44 L1081.51 1450.41 L1077.91 1450.38 L1074.32 1450.34 L1070.72 1450.31 L1067.13 1450.28 L1063.53 1450.25 L1059.94 1450.21 L1056.34 1450.17 L1052.75 1450.14 L1049.15 1450.1 L1045.56 1450.06 L1041.96 1450.02 L1038.37 1449.98 L1034.77 1449.93 L1031.18 1449.89 L1027.58 1449.84 L1023.99 1449.8 L1020.39 1449.75 L1016.8 1449.7 L1013.2 1449.65 L1009.61 1449.6 L1006.01 1449.54 L1002.42 1449.49 L998.82 1449.43 L995.23 1449.37 L991.63 1449.31 L988.04 1449.25 L984.44 1449.18 L980.85 1449.12 L977.25 1449.05 L973.66 1448.98 L970.06 1448.91 L966.47 1448.83 L962.87 1448.75 L959.28 1448.68 L955.68 1448.6 L952.09 1448.51 L948.49 1448.43 L944.9 1448.34 L941.3 1448.25 L937.71 1448.15 L934.11 1448.06 L930.52 1447.96 L926.92 1447.86 L923.33 1447.75 L919.73 1447.65 L916.14 1447.54 L912.54 1447.42 L908.95 1447.31 L905.35 1447.19 L901.76 1447.06 L898.16 1446.94 L894.57 1446.81 L890.97 1446.67 L887.38 1446.53 L883.78 1446.39 L880.19 1446.25 L876.59 1446.1 L873 1445.94 L869.4 1445.79 L865.81 1445.63 L862.21 1445.46 L858.62 1445.29 L855.02 1445.12 L851.43 1444.94 L847.83 1444.75 L844.24 1444.57 L840.64 1444.37 L837.05 1444.18 L833.45 1443.97 L829.86 1443.77 L826.26 1443.55 L822.67 1443.34 L819.07 1443.12 L815.48 1442.89 L811.88 1442.66 L808.29 1442.43 L804.69 1442.19 L801.1 1441.94 L797.5 1441.69 L793.91 1441.45 L790.31 1441.21 L786.72 1440.99 L783.12 1440.77 L779.53 1440.55 L775.93 1440.34 L772.34 1440.13 L768.74 1439.93 L765.15 1439.72 L761.55 1439.52 L757.96 1439.31 L754.36 1439.12 L750.77 1438.93 L747.17 1438.76 L743.58 1438.61 L739.98 1438.46 L736.38 1438.33 L732.79 1438.22 L729.2 1438.12 L725.6 1438.04 L722.01 1437.98 L718.41 1437.94 L714.82 1437.93 L711.22 1437.95 L707.63 1438 L704.03 1438.08 L700.44 1438.2 L696.84 1438.36 L693.25 1438.57 L689.65 1438.81 L686.06 1439.11 L682.46 1439.44 L678.87 1439.82 L675.27 1440.25 L671.68 1440.73 L668.08 1441.25 L664.49 1441.83 L660.89 1442.45 L657.3 1443.13 L653.7 1443.87 L650.11 1444.67 L646.51 1445.53 L642.92 1446.44 L639.32 1447.4 L635.73 1448.42 L632.13 1449.49 L628.54 1450.6 L624.94 1451.76 L621.35 1452.96 L617.75 1454.2 L614.16 1455.49 L610.56 1456.8 L606.97 1458.16 L603.37 1459.54 L599.78 1460.96 L596.18 1462.4 L592.59 1463.87 L588.99 1465.37 L585.4 1466.91 L581.8 1468.47 L578.21 1470.07 L574.61 1471.71 L571.02 1473.4 L567.42 1475.12 L563.83 1476.9 L560.23 1478.72 L556.63 1480.59 L553.04 1482.52 L549.45 1484.5 L545.85 1486.54 L542.26 1488.64 L538.66 1490.8 L535.07 1492.99 L531.47 1495.21 L527.88 1497.46 L524.28 1499.76 L520.69 1502.09 L517.09 1504.47 L513.5 1506.9 L509.9 1509.38 L506.31 1511.92 L502.71 1514.51 L499.12 1517.16 L495.52 1519.86 L491.93 1522.63 L488.33 1525.44 L484.74 1528.28 L481.14 1531.12 L477.55 1533.97 L473.95 1536.82 L470.36 1539.65 L466.76 1542.45 L463.17 1545.21 L459.57 1547.92 L455.98 1550.56 L452.38 1553.12 L448.79 1555.57 L445.19 1557.89 L441.6 1560.06 L438 1562.06 L434.41 1563.83 L430.81 1565.36 L427.22 1566.61 L423.62 1567.56 L420.03 1568.15 L416.43 1568.36 L412.84 1568.32 L409.24 1568.3 L222.3 1568.3Z" fill="#ffa500" fill-opacity="0.2" stroke="none"/>
<path d="M222.3 1568.3 L409.24 1568.3 L412.84 1568.49 L416.43 1568.93 L420.03 1569.61 L423.62 1570.53 L427.22 1571.65 L430.81 1572.98 L434.41 1574.5 L438 1576.21 L441.6 1578.08 L445.19 1580.09 L448.79 1582.23 L452.38 1584.47 L455.98 1586.83 L459.57 1589.27 L463.17 1591.79 L466.76 1594.39 L470.36 1597.05 L473.95 1599.77 L477.55 1602.54 L481.14 1605.34 L484.74 1608.19 L488.33 1611.06 L491.93 1613.95 L495.52 1616.83 L499.12 1619.7 L502.71 1622.54 L506.31 1625.37 L509.9 1628.17 L513.5 1630.95 L517.09 1633.71 L520.69 1636.45 L524.28 1639.17 L527.88 1641.87 L531.47 1644.56 L535.07 1647.23 L538.66 1649.89 L542.26 1652.53 L545.85 1655.13 L549.45 1657.69 L553.04 1660.2 L556.63 1662.68 L560.23 1665.11 L563.83 1667.51 L567.42 1669.87 L571.02 1672.2 L574.61 1674.49 L578.21 1676.75 L581.8 1678.98 L585.4 1681.18 L588.99 1683.36 L592.59 1685.51 L596.18 1687.65 L599.78 1689.76 L603.37 1691.85 L606.97 1693.9 L610.56 1695.93 L614.16 1697.92 L617.75 1699.87 L621.35 1701.78 L624.94 1703.64 L628.54 1705.46 L632.13 1707.23 L635.73 1708.95 L639.32 1710.62 L642.92 1712.23 L646.51 1713.78 L650.11 1715.27 L653.7 1716.69 L657.3 1718.04 L660.89 1719.33 L664.49 1720.56 L668.08 1721.72 L671.68 1722.83 L675.27 1723.88 L678.87 1724.87 L682.46 1725.81 L686.06 1726.69 L689.65 1727.52 L693.25 1728.29 L696.84 1729.01 L700.44 1729.68 L704.03 1730.3 L707.63 1730.87 L711.22 1731.41 L714.82 1731.9 L718.41 1732.35 L722.01 1732.77 L725.6 1733.15 L729.2 1733.5 L732.79 1733.81 L736.38 1734.1 L739.98 1734.36 L743.58 1734.59 L747.17 1734.79 L750.77 1734.97 L754.36 1735.12 L757.96 1735.25 L761.55 1735.36 L765.15 1735.45 L768.74 1735.52 L772.34 1735.59 L775.93 1735.63 L779.53 1735.67 L783.12 1735.68 L786.72 1735.69 L790.31 1735.67 L793.91 1735.64 L797.5 1735.6 L801.1 1735.54 L804.69 1735.47 L808.29 1735.4 L811.88 1735.32 L815.48 1735.24 L819.07 1735.16 L822.67 1735.07 L826.26 1734.97 L829.86 1734.88 L833.45 1734.78 L837.05 1734.68 L840.64 1734.57 L844.24 1734.47 L847.83 1734.36 L851.43 1734.25 L855.02 1734.14 L858.62 1734.03 L862.21 1733.92 L865.81 1733.81 L869.4 1733.7 L873 1733.58 L876.59 1733.47 L880.19 1733.36 L883.78 1733.24 L887.38 1733.13 L890.97 1733.02 L894.57 1732.91 L898.16 1732.8 L901.76 1732.68 L905.35 1732.57 L908.95 1732.46 L912.54 1732.36 L916.14 1732.25 L919.73 1732.14 L923.33 1732.03 L926.92 1731.93 L930.52 1731.83 L934.11 1731.72 L937.71 1731.62 L941.3 1731.52 L944.9 1731.42 L948.49 1731.32 L952.09 1731.22 L955.68 1731.13 L959.28 1731.03 L962.87 1730.94 L966.47 1730.85 L970.06 1730.76 L973.66 1730.67 L977.25 1730.58 L980.85 1730.49 L984.44 1730.4 L988.04 1730.32 L991.63 1730.23 L995.23 1730.15 L998.82 1730.07 L1002.42 1729.99 L1006.01 1729.91 L1009.61 1729.83 L1013.2 1729.76 L1016.8 1729.68 L1020.39 1729.61 L1023.99 1729.53 L1027.58 1729.46 L1031.18 1729.39 L1034.77 1729.32 L1038.37 1729.25 L1041.96 1729.19 L1045.56 1729.12 L1049.15 1729.05 L1052.75 1728.99 L1056.34 1728.93 L1059.94 1728.87 L1063.53 1728.8 L1067.13 1728.74 L1070.72 1728.69 L1074.32 1728.63 L1077.91 1728.57 L1081.51 1728.52 L1085.1 1728.46 L1088.7 1728.41 L1092.29 1728.35 L1095.89 1728.3 L1099.48 1728.25 L1103.08 1728.2 L1106.67 1728.15 L1110.27 1728.1 L1113.86 1728.05 L1117.46 1728.01 L1121.05 1727.96 L1124.65 1727.92 L1128.24 1727.87 L1131.84 1727.83 L1135.43 1727.79 L1139.03 1727.74 L1142.62 1727.7 L1146.22 1727.66 L1149.81 1727.62 L1153.41 1727.58 L1157 1727.54 L1160.6 1727.51 L1164.19 1727.47 L1167.79 1727.43 L1171.38 1727.4 L1174.98 1727.36 L1178.57 1727.33 L1182.17 1727.29 L1185.76 1727.26 L1189.36 1727.23 L1192.95 1727.2 L1196.55 1727.16 L1200.14 1727.13 L1203.74 1727.1 L1207.33 1727.07 L1210.93 1727.04 L1214.52 1727.02 L1218.12 1726.99 L1221.71 1726.96 L1225.31 1726.93 L1228.9 1726.91 L1228.9 1649.5 L1225.31 1649.51 L1221.71 1649.52 L1218.12 1649.52 L1214.52 1649.53 L1210.93 1649.54 L1207.33 1649.54 L1203.74 1649.55 L1200.14 1649.56 L1196.55 1649.57 L1192.95 1649.58 L1189.36 1649.58 L1185.76 1649.59 L1182.17 1649.6 L1178.57 1649.61 L1174.98 1649.62 L1171.38 1649.63 L1167.79 1649.64 L1164.19 1649.65 L1160.6 1649.66 L1157 1649.67 L1153.41 1649.69 L1149.81 1649.7 L1146.22 1649.71 L1142.62 1649.72 L1139.03 1649.73 L1135.43 1649.75 L1131.84 1649.76 L1128.24 1649.78 L1124.65 1649.79 L1121.05 1649.8 L1117.46 1649.82 L1113.86 1649.84 L1110.27 1649.85 L1106.67 1649.87 L1103.08 1649.89 L1099.48 1649.9 L1095.89 1649.92 L1092.29 1649.94 L1088.7 1649.96 L1085.1 1649.98 L1081.51 1650 L1077.91 1650.02 L1074.32 1650.04 L1070.72 1650.07 L1067.13 1650.09 L1063.53 1650.11 L1059.94 1650.14 L1056.34 1650.16 L1052.75 1650.19 L1049.15 1650.21 L1045.56 1650.24 L1041.96 1650.27 L1038.37 1650.3 L1034.77 1650.33 L1031.18 1650.36 L1027.58 1650.39 L1023.99 1650.42 L1020.39 1650.46 L1016.8 1650.49 L1013.2 1650.53 L1009.61 1650.56 L1006.01 1650.6 L1002.42 1650.64 L998.82 1650.68 L995.23 1650.72 L991.63 1650.76 L988.04 1650.8 L984.44 1650.85 L980.85 1650.89 L977.25 1650.94 L973.66 1650.99 L970.06 1651.04 L966.47 1651.09 L962.87 1651.14 L959.28 1651.2 L955.68 1651.26 L952.09 1651.31 L948.49 1651.37 L944.9 1651.43 L941.3 1651.5 L937.71 1651.56 L934.11 1651.63 L930.52 1651.7 L926.92 1651.77 L923.33 1651.84 L919.73 1651.91 L916.14 1651.99 L912.54 1652.07 L908.95 1652.15 L905.35 1652.23 L901.76 1652.32 L898.16 1652.41 L894.57 1652.5 L890.97 1652.59 L887.38 1652.68 L883.78 1652.78 L880.19 1652.88 L876.59 1652.99 L873 1653.09 L869.4 1653.2 L865.81 1653.31 L862.21 1653.43 L858.62 1653.55 L855.02 1653.67 L851.43 1653.79 L847.83 1653.92 L844.24 1654.05 L840.64 1654.18 L837.05 1654.32 L833.45 1654.46 L829.86 1654.6 L826.26 1654.75 L822.67 1654.9 L819.07 1655.05 L815.48 1655.21 L811.88 1655.37 L808.29 1655.53 L804.69 1655.7 L801.1 1655.87 L797.5 1656.04 L793.91 1656.21 L790.31 1656.37 L786.72 1656.53 L783.12 1656.68 L779.53 1656.83 L775.93 1656.97 L772.34 1657.12 L768.74 1657.26 L765.15 1657.4 L761.55 1657.55 L757.96 1657.69 L754.36 1657.82 L750.77 1657.95 L747.17 1658.07 L743.58 1658.18 L739.98 1658.28 L736.38 1658.37 L732.79 1658.45 L729.2 1658.51 L725.6 1658.57 L722.01 1658.61 L718.41 1658.64 L714.82 1658.65 L711.22 1658.63 L707.63 1658.6 L704.03 1658.54 L700.44 1658.46 L696.84 1658.35 L693.25 1658.2 L689.65 1658.03 L686.06 1657.83 L682.46 1657.6 L678.87 1657.33 L675.27 1657.04 L671.68 1656.71 L668.08 1656.34 L664.49 1655.94 L660.89 1655.51 L657.3 1655.04 L653.7 1654.53 L650.11 1653.98 L646.51 1653.38 L642.92 1652.75 L639.32 1652.08 L635.73 1651.38 L632.13 1650.64 L628.54 1649.87 L624.94 1649.06 L621.35 1648.23 L617.75 1647.37 L614.16 1646.48 L610.56 1645.57 L606.97 1644.63 L603.37 1643.67 L599.78 1642.69 L596.18 1641.69 L592.59 1640.67 L588.99 1639.63 L585.4 1638.57 L581.8 1637.48 L578.21 1636.37 L574.61 1635.23 L571.02 1634.07 L567.42 1632.87 L563.83 1631.64 L560.23 1630.38 L556.63 1629.08 L553.04 1627.75 L549.45 1626.37 L545.85 1624.96 L542.26 1623.51 L538.66 1622.01 L535.07 1620.49 L531.47 1618.95 L527.88 1617.39 L524.28 1615.8 L520.69 1614.18 L517.09 1612.53 L513.5 1610.85 L509.9 1609.13 L506.31 1607.37 L502.71 1605.58 L499.12 1603.74 L495.52 1601.87 L491.93 1599.95 L488.33 1598 L484.74 1596.03 L481.14 1594.06 L477.55 1592.09 L473.95 1590.12 L470.36 1588.16 L466.76 1586.21 L463.17 1584.3 L459.57 1582.42 L455.98 1580.59 L452.38 1578.82 L448.79 1577.12 L445.19 1575.51 L441.6 1574.01 L438 1572.63 L434.41 1571.4 L430.81 1570.34 L427.22 1569.47 L423.62 1568.82 L420.03 1568.4 L416.43 1568.26 L412.84 1568.29 L409.24 1568.3 L222.3 1568.3Z" fill="#006400" fill-opacity="0.2" stroke="none"/>
<path d="M222.3 1568.3 L409.24 1568.3 L412.84 1568.31 L416.43 1568.28 L420.03 1568.13 L423.62 1567.88 L427.22 1567.53 L430.81 1567.09 L434.41 1566.56 L438 1565.95 L441.6 1565.26 L445.19 1564.52 L448.79 1563.72 L452.38 1562.87 L455.98 1561.98 L459.57 1561.06 L463.17 1560.11 L466.76 1559.13 L470.36 1558.13 L473.95 1557.11 L477.55 1556.08 L481.14 1555.04 L484.74 1553.99 L488.33 1552.93 L491.93 1551.88 L495.52 1550.82 L499.12 1549.77 L502.71 1548.71 L506.31 1547.67 L509.9 1546.63 L513.5 1545.59 L517.09 1544.57 L520.69 1543.56 L524.28 1542.55 L527.88 1541.56 L531.47 1540.59 L535.07 1539.62 L538.66 1538.67 L542.26 1537.74 L545.85 1536.83 L549.45 1535.93 L553.04 1535.05 L556.63 1534.19 L560.23 1533.34 L563.83 1532.52 L567.42 1531.71 L571.02 1530.92 L574.61 1530.15 L578.21 1529.39 L581.8 1528.65 L585.4 1527.93 L588.99 1527.22 L592.59 1526.54 L596.18 1525.86 L599.78 1525.21 L603.37 1524.57 L606.97 1523.95 L610.56 1523.35 L614.16 1522.77 L617.75 1522.21 L621.35 1521.67 L624.94 1521.14 L628.54 1520.64 L632.13 1520.15 L635.73 1519.69 L639.32 1519.24 L642.92 1518.82 L646.51 1518.41 L650.11 1518.02 L653.7 1517.66 L657.3 1517.31 L660.89 1516.98 L664.49 1516.67 L668.08 1516.38 L671.68 1516.11 L675.27 1515.85 L678.87 1515.62 L682.46 1515.4 L686.06 1515.2 L689.65 1515.01 L693.25 1514.85 L696.84 1514.7 L700.44 1514.57 L704.03 1514.46 L707.63 1514.35 L711.22 1514.26 L714.82 1514.17 L718.41 1514.1 L722.01 1514.04 L725.6 1513.99 L729.2 1513.95 L732.79 1513.92 L736.38 1513.9 L739.98 1513.89 L743.58 1513.88 L747.17 1513.89 L750.77 1513.91 L754.36 1513.94 L757.96 1513.98 L761.55 1514.03 L765.15 1514.08 L768.74 1514.14 L772.34 1514.2 L775.93 1514.26 L779.53 1514.33 L783.12 1514.4 L786.72 1514.47 L790.31 1514.54 L793.91 1514.61 L797.5 1514.69 L801.1 1514.77 L804.69 1514.84 L808.29 1514.92 L811.88 1515 L815.48 1515.07 L819.07 1515.15 L822.67 1515.22 L826.26 1515.3 L829.86 1515.37 L833.45 1515.45 L837.05 1515.52 L840.64 1515.59 L844.24 1515.66 L847.83 1515.73 L851.43 1515.8 L855.02 1515.87 L858.62 1515.94 L862.21 1516 L865.81 1516.07 L869.4 1516.13 L873 1516.2 L876.59 1516.26 L880.19 1516.32 L883.78 1516.38 L887.38 1516.44 L890.97 1516.5 L894.57 1516.55 L898.16 1516.61 L901.76 1516.66 L905.35 1516.72 L908.95 1516.77 L912.54 1516.82 L916.14 1516.87 L919.73 1516.92 L923.33 1516.97 L926.92 1517.01 L930.52 1517.06 L934.11 1517.11 L937.71 1517.15 L941.3 1517.19 L944.9 1517.24 L948.49 1517.28 L952.09 1517.32 L955.68 1517.36 L959.28 1517.4 L962.87 1517.43 L966.47 1517.47 L970.06 1517.51 L973.66 1517.54 L977.25 1517.58 L980.85 1517.61 L984.44 1517.65 L988.04 1517.68 L991.63 1517.71 L995.23 1517.74 L998.82 1517.77 L1002.42 1517.8 L1006.01 1517.83 L1009.61 1517.86 L1013.2 1517.89 L1016.8 1517.91 L1020.39 1517.94 L1023.99 1517.97 L1027.58 1517.99 L1031.18 1518.02 L1034.77 1518.04 L1038.37 1518.06 L1041.96 1518.09 L1045.56 1518.11 L1049.15 1518.13 L1052.75 1518.15 L1056.34 1518.17 L1059.94 1518.19 L1063.53 1518.21 L1067.13 1518.23 L1070.72 1518.25 L1074.32 1518.27 L1077.91 1518.29 L1081.51 1518.31 L1085.1 1518.32 L1088.7 1518.34 L1092.29 1518.36 L1095.89 1518.37 L1099.48 1518.39 L1103.08 1518.41 L1106.67 1518.42 L1110.27 1518.44 L1113.86 1518.45 L1117.46 1518.46 L1121.05 1518.48 L1124.65 1518.49 L1128.24 1518.5 L1131.84 1518.52 L1135.43 1518.53 L1139.03 1518.54 L1142.62 1518.55 L1146.22 1518.56 L1149.81 1518.58 L1153.41 1518.59 L1157 1518.6 L1160.6 1518.61 L1164.19 1518.62 L1167.79 1518.63 L1171.38 1518.64 L1174.98 1518.65 L1178.57 1518.66 L1182.17 1518.67 L1185.76 1518.67 L1189.36 1518.68 L1192.95 1518.69 L1196.55 1518.7 L1200.14 1518.71 L1203.74 1518.72 L1207.33 1518.72 L1210.93 1518.73 L1214.52 1518.74 L1218.12 1518.75 L1221.71 1518.75 L1225.31 1518.76 L1228.9 1518.77" stroke="#0000ff" stroke-width="6.7"/>
<path d="M222.3 1568.3 L409.24 1568.3 L412.84 1568.33 L416.43 1568.23 L420.03 1567.76 L423.62 1566.95 L427.22 1565.81 L430.81 1564.37 L434.41 1562.65 L438 1560.67 L441.6 1558.44 L445.19 1556.02 L448.79 1553.42 L452.38 1550.67 L455.98 1547.79 L459.57 1544.79 L463.17 1541.7 L466.76 1538.52 L470.36 1535.28 L473.95 1531.97 L477.55 1528.62 L481.14 1525.24 L484.74 1521.83 L488.33 1518.41 L491.93 1514.98 L495.52 1511.55 L499.12 1508.12 L502.71 1504.71 L506.31 1501.31 L509.9 1497.93 L513.5 1494.58 L517.09 1491.25 L520.69 1487.96 L524.28 1484.71 L527.88 1481.49 L531.47 1478.32 L535.07 1475.19 L538.66 1472.11 L542.26 1469.08 L545.85 1466.11 L549.45 1463.2 L553.04 1460.34 L556.63 1457.54 L560.23 1454.8 L563.83 1452.12 L567.42 1449.5 L571.02 1446.93 L574.61 1444.42 L578.21 1441.97 L581.8 1439.57 L585.4 1437.23 L588.99 1434.94 L592.59 1432.7 L596.18 1430.52 L599.78 1428.39 L603.37 1426.32 L606.97 1424.31 L610.56 1422.36 L614.16 1420.47 L617.75 1418.65 L621.35 1416.89 L624.94 1415.19 L628.54 1413.55 L632.13 1411.98 L635.73 1410.47 L639.32 1409.03 L642.92 1407.64 L646.51 1406.32 L650.11 1405.07 L653.7 1403.88 L657.3 1402.75 L660.89 1401.69 L664.49 1400.68 L668.08 1399.74 L671.68 1398.85 L675.27 1398.02 L678.87 1397.25 L682.46 1396.54 L686.06 1395.89 L689.65 1395.3 L693.25 1394.76 L696.84 1394.29 L700.44 1393.86 L704.03 1393.48 L707.63 1393.14 L711.22 1392.84 L714.82 1392.57 L718.41 1392.34 L722.01 1392.14 L725.6 1391.97 L729.2 1391.84 L732.79 1391.74 L736.38 1391.67 L739.98 1391.63 L743.58 1391.62 L747.17 1391.65 L750.77 1391.71 L754.36 1391.8 L757.96 1391.93 L761.55 1392.09 L765.15 1392.27 L768.74 1392.45 L772.34 1392.65 L775.93 1392.86 L779.53 1393.07 L783.12 1393.29 L786.72 1393.52 L790.31 1393.75 L793.91 1393.99 L797.5 1394.24 L801.1 1394.49 L804.69 1394.74 L808.29 1394.99 L811.88 1395.23 L815.48 1395.48 L819.07 1395.73 L822.67 1395.97 L826.26 1396.22 L829.86 1396.46 L833.45 1396.7 L837.05 1396.93 L840.64 1397.17 L844.24 1397.4 L847.83 1397.63 L851.43 1397.85 L855.02 1398.07 L858.62 1398.29 L862.21 1398.51 L865.81 1398.72 L869.4 1398.93 L873 1399.13 L876.59 1399.33 L880.19 1399.53 L883.78 1399.72 L887.38 1399.91 L890.97 1400.1 L894.57 1400.29 L898.16 1400.47 L901.76 1400.64 L905.35 1400.82 L908.95 1400.99 L912.54 1401.15 L916.14 1401.32 L919.73 1401.48 L923.33 1401.63 L926.92 1401.79 L930.52 1401.94 L934.11 1402.08 L937.71 1402.23 L941.3 1402.37 L944.9 1402.51 L948.49 1402.64 L952.09 1402.77 L955.68 1402.9 L959.28 1403.03 L962.87 1403.15 L966.47 1403.27 L970.06 1403.39 L973.66 1403.51 L977.25 1403.62 L980.85 1403.73 L984.44 1403.84 L988.04 1403.95 L991.63 1404.05 L995.23 1404.15 L998.82 1404.25 L1002.42 1404.35 L1006.01 1404.44 L1009.61 1404.53 L1013.2 1404.62 L1016.8 1404.71 L1020.39 1404.8 L1023.99 1404.88 L1027.58 1404.96 L1031.18 1405.04 L1034.77 1405.12 L1038.37 1405.2 L1041.96 1405.27 L1045.56 1405.34 L1049.15 1405.42 L1052.75 1405.49 L1056.34 1405.55 L1059.94 1405.62 L1063.53 1405.68 L1067.13 1405.75 L1070.72 1405.81 L1074.32 1405.87 L1077.91 1405.93 L1081.51 1405.99 L1085.1 1406.04 L1088.7 1406.1 L1092.29 1406.15 L1095.89 1406.2 L1099.48 1406.26 L1103.08 1406.31 L1106.67 1406.35 L1110.27 1406.4 L1113.86 1406.45 L1117.46 1406.49 L1121.05 1406.54 L1124.65 1406.58 L1128.24 1406.62 L1131.84 1406.66 L1135.43 1406.71 L1139.03 1406.74 L1142.62 1406.78 L1146.22 1406.82 L1149.81 1406.86 L1153.41 1406.89 L1157 1406.93 L1160.6 1406.96 L1164.19 1407 L1167.79 1407.03 L1171.38 1407.06 L1174.98 1407.09 L1178.57 1407.12 L1182.17 1407.15 L1185.76 1407.18 L1189.36 1407.21 L1192.95 1407.23 L1196.55 1407.26 L1200.14 1407.29 L1203.74 1407.31 L1207.33 1407.34 L1210.93 1407.36 L1214.52 1407.39 L1218.12 1407.41 L1221.71 1407.43 L1225.31 1407.45 L1228.9 1407.48" stroke="#ffa500" stroke-width="6.7"/>
<path d="M222.3 1568.3 L409.24 1568.3 L412.84 1568.28 L416.43 1568.35 L420.03 1568.67 L423.62 1569.24 L427.22 1570.03 L430.81 1571.02 L434.41 1572.22 L438 1573.59 L441.6 1575.13 L445.19 1576.81 L448.79 1578.61 L452.38 1580.52 L455.98 1582.51 L459.57 1584.59 L463.17 1586.73 L466.76 1588.94 L470.36 1591.19 L473.95 1593.48 L477.55 1595.8 L481.14 1598.14 L484.74 1600.5 L488.33 1602.87 L491.93 1605.25 L495.52 1607.63 L499.12 1610 L502.71 1612.37 L506.31 1614.73 L509.9 1617.07 L513.5 1619.39 L517.09 1621.69 L520.69 1623.97 L524.28 1626.23 L527.88 1628.46 L531.47 1630.65 L535.07 1632.82 L538.66 1634.96 L542.26 1637.06 L545.85 1639.12 L549.45 1641.14 L553.04 1643.12 L556.63 1645.06 L560.23 1646.95 L563.83 1648.81 L567.42 1650.63 L571.02 1652.41 L574.61 1654.15 L578.21 1655.85 L581.8 1657.51 L585.4 1659.13 L588.99 1660.72 L592.59 1662.27 L596.18 1663.78 L599.78 1665.26 L603.37 1666.69 L606.97 1668.09 L610.56 1669.44 L614.16 1670.74 L617.75 1672.01 L621.35 1673.23 L624.94 1674.41 L628.54 1675.54 L632.13 1676.63 L635.73 1677.67 L639.32 1678.68 L642.92 1679.64 L646.51 1680.55 L650.11 1681.42 L653.7 1682.25 L657.3 1683.03 L660.89 1683.76 L664.49 1684.46 L668.08 1685.12 L671.68 1685.73 L675.27 1686.3 L678.87 1686.84 L682.46 1687.33 L686.06 1687.78 L689.65 1688.19 L693.25 1688.56 L696.84 1688.89 L700.44 1689.19 L704.03 1689.45 L707.63 1689.69 L711.22 1689.9 L714.82 1690.08 L718.41 1690.24 L722.01 1690.38 L725.6 1690.49 L729.2 1690.59 L732.79 1690.66 L736.38 1690.71 L739.98 1690.73 L743.58 1690.74 L747.17 1690.72 L750.77 1690.68 L754.36 1690.62 L757.96 1690.53 L761.55 1690.41 L765.15 1690.29 L768.74 1690.16 L772.34 1690.02 L775.93 1689.88 L779.53 1689.73 L783.12 1689.58 L786.72 1689.42 L790.31 1689.26 L793.91 1689.1 L797.5 1688.93 L801.1 1688.75 L804.69 1688.58 L808.29 1688.41 L811.88 1688.23 L815.48 1688.06 L819.07 1687.89 L822.67 1687.72 L826.26 1687.55 L829.86 1687.39 L833.45 1687.22 L837.05 1687.06 L840.64 1686.89 L844.24 1686.73 L847.83 1686.58 L851.43 1686.42 L855.02 1686.27 L858.62 1686.12 L862.21 1685.97 L865.81 1685.82 L869.4 1685.68 L873 1685.53 L876.59 1685.39 L880.19 1685.26 L883.78 1685.12 L887.38 1684.99 L890.97 1684.86 L894.57 1684.73 L898.16 1684.61 L901.76 1684.49 L905.35 1684.37 L908.95 1684.25 L912.54 1684.13 L916.14 1684.02 L919.73 1683.91 L923.33 1683.8 L926.92 1683.69 L930.52 1683.59 L934.11 1683.49 L937.71 1683.39 L941.3 1683.29 L944.9 1683.19 L948.49 1683.1 L952.09 1683.01 L955.68 1682.92 L959.28 1682.83 L962.87 1682.75 L966.47 1682.66 L970.06 1682.58 L973.66 1682.5 L977.25 1682.42 L980.85 1682.35 L984.44 1682.27 L988.04 1682.2 L991.63 1682.13 L995.23 1682.06 L998.82 1681.99 L1002.42 1681.92 L1006.01 1681.86 L1009.61 1681.79 L1013.2 1681.73 L1016.8 1681.67 L1020.39 1681.61 L1023.99 1681.55 L1027.58 1681.49 L1031.18 1681.44 L1034.77 1681.38 L1038.37 1681.33 L1041.96 1681.28 L1045.56 1681.23 L1049.15 1681.18 L1052.75 1681.13 L1056.34 1681.08 L1059.94 1681.04 L1063.53 1680.99 L1067.13 1680.95 L1070.72 1680.91 L1074.32 1680.86 L1077.91 1680.82 L1081.51 1680.78 L1085.1 1680.74 L1088.7 1680.71 L1092.29 1680.67 L1095.89 1680.63 L1099.48 1680.6 L1103.08 1680.56 L1106.67 1680.53 L1110.27 1680.5 L1113.86 1680.46 L1117.46 1680.43 L1121.05 1680.4 L1124.65 1680.37 L1128.24 1680.34 L1131.84 1680.31 L1135.43 1680.29 L1139.03 1680.26 L1142.62 1680.23 L1146.22 1680.21 L1149.81 1680.18 L1153.41 1680.16 L1157 1680.13 L1160.6 1680.11 L1164.19 1680.08 L1167.79 1680.06 L1171.38 1680.04 L1174.98 1680.02 L1178.57 1680 L1182.17 1679.98 L1185.76 1679.96 L1189.36 1679.94 L1192.95 1679.92 L1196.55 1679.9 L1200.14 1679.88 L1203.74 1679.86 L1207.33 1679.85 L1210.93 1679.83 L1214.52 1679.81 L1218.12 1679.8 L1221.71 1679.78 L1225.31 1679.77 L1228.9 1679.75" stroke="#006400" stroke-width="6.7"/>
<path d="M222.3 1568.3 L409.24 1568.3 L412.84 1568.22 L416.43 1568.02 L420.03 1567.72 L423.62 1567.31 L427.22 1566.81 L430.81 1566.22 L434.41 1565.54 L438 1564.79 L441.6 1563.95 L445.19 1563.06 L448.79 1562.11 L452.38 1561.11 L455.98 1560.07 L459.57 1558.98 L463.17 1557.86 L466.76 1556.7 L470.36 1555.52 L473.95 1554.31 L477.55 1553.08 L481.14 1551.84 L484.74 1550.57 L488.33 1549.3 L491.93 1548.01 L495.52 1546.73 L499.12 1545.46 L502.71 1544.19 L506.31 1542.94 L509.9 1541.69 L513.5 1540.46 L517.09 1539.23 L520.69 1538.01 L524.28 1536.8 L527.88 1535.6 L531.47 1534.41 L535.07 1533.22 L538.66 1532.04 L542.26 1530.86 L545.85 1529.71 L549.45 1528.57 L553.04 1527.45 L556.63 1526.35 L560.23 1525.27 L563.83 1524.21 L567.42 1523.16 L571.02 1522.12 L574.61 1521.11 L578.21 1520.1 L581.8 1519.11 L585.4 1518.13 L588.99 1517.16 L592.59 1516.2 L596.18 1515.26 L599.78 1514.32 L603.37 1513.39 L606.97 1512.48 L610.56 1511.58 L614.16 1510.69 L617.75 1509.83 L621.35 1508.98 L624.94 1508.15 L628.54 1507.34 L632.13 1506.55 L635.73 1505.79 L639.32 1505.05 L642.92 1504.33 L646.51 1503.64 L650.11 1502.98 L653.7 1502.35 L657.3 1501.75 L660.89 1501.18 L664.49 1500.63 L668.08 1500.11 L671.68 1499.62 L675.27 1499.15 L678.87 1498.71 L682.46 1498.3 L686.06 1497.9 L689.65 1497.54 L693.25 1497.19 L696.84 1496.87 L700.44 1496.58 L704.03 1496.3 L707.63 1496.05 L711.22 1495.81 L714.82 1495.59 L718.41 1495.39 L722.01 1495.2 L725.6 1495.03 L729.2 1494.88 L732.79 1494.74 L736.38 1494.61 L739.98 1494.5 L743.58 1494.39 L747.17 1494.3 L750.77 1494.22 L754.36 1494.16 L757.96 1494.1 L761.55 1494.05 L765.15 1494.01 L768.74 1493.98 L772.34 1493.95 L775.93 1493.93 L779.53 1493.91 L783.12 1493.91 L786.72 1493.91 L790.31 1493.91 L793.91 1493.93 L797.5 1493.95 L801.1 1493.97 L804.69 1494 L808.29 1494.03 L811.88 1494.07 L815.48 1494.1 L819.07 1494.14 L822.67 1494.18 L826.26 1494.22 L829.86 1494.27 L833.45 1494.31 L837.05 1494.35 L840.64 1494.4 L844.24 1494.45 L847.83 1494.49 L851.43 1494.54 L855.02 1494.59 L858.62 1494.64 L862.21 1494.69 L865.81 1494.74 L869.4 1494.79 L873 1494.84 L876.59 1494.89 L880.19 1494.94 L883.78 1494.99 L887.38 1495.04 L890.97 1495.09 L894.57 1495.14 L898.16 1495.19 L901.76 1495.24 L905.35 1495.29 L908.95 1495.34 L912.54 1495.39 L916.14 1495.43 L919.73 1495.48 L923.33 1495.53 L926.92 1495.58 L930.52 1495.62 L934.11 1495.67 L937.71 1495.71 L941.3 1495.76 L944.9 1495.8 L948.49 1495.85 L952.09 1495.89 L955.68 1495.93 L959.28 1495.97 L962.87 1496.02 L966.47 1496.06 L970.06 1496.1 L973.66 1496.14 L977.25 1496.18 L980.85 1496.22 L984.44 1496.25 L988.04 1496.29 L991.63 1496.33 L995.23 1496.37 L998.82 1496.4 L1002.42 1496.44 L1006.01 1496.47 L1009.61 1496.51 L1013.2 1496.54 L1016.8 1496.58 L1020.39 1496.61 L1023.99 1496.64 L1027.58 1496.67 L1031.18 1496.7 L1034.77 1496.73 L1038.37 1496.77 L1041.96 1496.8 L1045.56 1496.82 L1049.15 1496.85 L1052.75 1496.88 L1056.34 1496.91 L1059.94 1496.94 L1063.53 1496.96 L1067.13 1496.99 L1070.72 1497.02 L1074.32 1497.04 L1077.91 1497.07 L1081.51 1497.09 L1085.1 1497.12 L1088.7 1497.14 L1092.29 1497.17 L1095.89 1497.19 L1099.48 1497.21 L1103.08 1497.23 L1106.67 1497.26 L1110.27 1497.28 L1113.86 1497.3 L1117.46 1497.32 L1121.05 1497.34 L1124.65 1497.36 L1128.24 1497.38 L1131.84 1497.4 L1135.43 1497.42 L1139.03 1497.44 L1142.62 1497.45 L1146.22 1497.47 L1149.81 1497.49 L1153.41 1497.51 L1157 1497.52 L1160.6 1497.54 L1164.19 1497.56 L1167.79 1497.57 L1171.38 1497.59 L1174.98 1497.61 L1178.57 1497.62 L1182.17 1497.64 L1185.76 1497.65 L1189.36 1497.67 L1192.95 1497.68 L1196.55 1497.69 L1200.14 1497.71 L1203.74 1497.72 L1207.33 1497.73 L1210.93 1497.75 L1214.52 1497.76 L1218.12 1497.77 L1221.71 1497.78 L1225.31 1497.8 L1228.9 1497.81" stroke="#0000ff" stroke-width="4.25" stroke-opacity="0.5" stroke-dasharray="15.7 6.8"/>
<path d="M222.3 1568.3 L409.24 1568.3 L412.84 1568.3 L416.43 1568.32 L420.03 1568.25 L423.62 1568.07 L427.22 1567.78 L430.81 1567.39 L434.41 1566.92 L438 1566.38 L441.6 1565.76 L445.19 1565.09 L448.79 1564.38 L452.38 1563.62 L455.98 1562.84 L459.57 1562.02 L463.17 1561.19 L466.76 1560.34 L470.36 1559.47 L473.95 1558.6 L477.55 1557.73 L481.14 1556.85 L484.74 1555.97 L488.33 1555.1 L491.93 1554.23 L495.52 1553.38 L499.12 1552.55 L502.71 1551.73 L506.31 1550.93 L509.9 1550.15 L513.5 1549.39 L517.09 1548.64 L520.69 1547.91 L524.28 1547.19 L527.88 1546.48 L531.47 1545.79 L535.07 1545.1 L538.66 1544.43 L542.26 1543.76 L545.85 1543.12 L549.45 1542.49 L553.04 1541.88 L556.63 1541.29 L560.23 1540.71 L563.83 1540.15 L567.42 1539.6 L571.02 1539.07 L574.61 1538.55 L578.21 1538.05 L581.8 1537.55 L585.4 1537.07 L588.99 1536.6 L592.59 1536.14 L596.18 1535.68 L599.78 1535.24 L603.37 1534.8 L606.97 1534.38 L610.56 1533.96 L614.16 1533.55 L617.75 1533.16 L621.35 1532.78 L624.94 1532.41 L628.54 1532.05 L632.13 1531.71 L635.73 1531.38 L639.32 1531.06 L642.92 1530.77 L646.51 1530.49 L650.11 1530.22 L653.7 1529.98 L657.3 1529.75 L660.89 1529.54 L664.49 1529.35 L668.08 1529.17 L671.68 1529.01 L675.27 1528.86 L678.87 1528.73 L682.46 1528.61 L686.06 1528.51 L689.65 1528.42 L693.25 1528.34 L696.84 1528.28 L700.44 1528.23 L704.03 1528.19 L707.63 1528.17 L711.22 1528.15 L714.82 1528.15 L718.41 1528.15 L722.01 1528.16 L725.6 1528.18 L729.2 1528.2 L732.79 1528.24 L736.38 1528.27 L739.98 1528.31 L743.58 1528.35 L747.17 1528.4 L750.77 1528.46 L754.36 1528.51 L757.96 1528.57 L761.55 1528.63 L765.15 1528.7 L768.74 1528.76 L772.34 1528.82 L775.93 1528.89 L779.53 1528.95 L783.12 1529.02 L786.72 1529.09 L790.31 1529.16 L793.91 1529.23 L797.5 1529.31 L801.1 1529.38 L804.69 1529.46 L808.29 1529.53 L811.88 1529.6 L815.48 1529.67 L819.07 1529.74 L822.67 1529.81 L826.26 1529.88 L829.86 1529.94 L833.45 1530.01 L837.05 1530.07 L840.64 1530.13 L844.24 1530.19 L847.83 1530.25 L851.43 1530.3 L855.02 1530.36 L858.62 1530.41 L862.21 1530.47 L865.81 1530.52 L869.4 1530.57 L873 1530.61 L876.59 1530.66 L880.19 1530.71 L883.78 1530.75 L887.38 1530.8 L890.97 1530.84 L894.57 1530.88 L898.16 1530.92 L901.76 1530.96 L905.35 1531 L908.95 1531.03 L912.54 1531.07 L916.14 1531.1 L919.73 1531.14 L923.33 1531.17 L926.92 1531.2 L930.52 1531.24 L934.11 1531.27 L937.71 1531.3 L941.3 1531.32 L944.9 1531.35 L948.49 1531.38 L952.09 1531.41 L955.68 1531.43 L959.28 1531.46 L962.87 1531.48 L966.47 1531.5 L970.06 1531.53 L973.66 1531.55 L977.25 1531.57 L980.85 1531.59 L984.44 1531.61 L988.04 1531.63 L991.63 1531.65 L995.23 1531.67 L998.82 1531.69 L1002.42 1531.71 L1006.01 1531.72 L1009.61 1531.74 L1013.2 1531.76 L1016.8 1531.77 L1020.39 1531.79 L1023.99 1531.8 L1027.58 1531.82 L1031.18 1531.83 L1034.77 1531.84 L1038.37 1531.86 L1041.96 1531.87 L1045.56 1531.88 L1049.15 1531.89 L1052.75 1531.91 L1056.34 1531.92 L1059.94 1531.93 L1063.53 1531.94 L1067.13 1531.95 L1070.72 1531.96 L1074.32 1531.97 L1077.91 1531.98 L1081.51 1531.99 L1085.1 1532 L1088.7 1532.01 L1092.29 1532.02 L1095.89 1532.02 L1099.48 1532.03 L1103.08 1532.04 L1106.67 1532.05 L1110.27 1532.05 L1113.86 1532.06 L1117.46 1532.07 L1121.05 1532.08 L1124.65 1532.08 L1128.24 1532.09 L1131.84 1532.09 L1135.43 1532.1 L1139.03 1532.11 L1142.62 1532.11 L1146.22 1532.12 L1149.81 1532.12 L1153.41 1532.13 L1157 1532.13 L1160.6 1532.14 L1164.19 1532.14 L1167.79 1532.15 L1171.38 1532.15 L1174.98 1532.16 L1178.57 1532.16 L1182.17 1532.17 L1185.76 1532.17 L1189.36 1532.17 L1192.95 1532.18 L1196.55 1532.18 L1200.14 1532.18 L1203.74 1532.19 L1207.33 1532.19 L1210.93 1532.19 L1214.52 1532.2 L1218.12 1532.2 L1221.71 1532.2 L1225.31 1532.21 L1228.9 1532.21" stroke="#0000ff" stroke-width="4.25" stroke-opacity="0.5" stroke-dasharray="15.7 6.8"/>
<path d="M222.3 1568.3 L409.24 1568.29 L412.84 1568.03 L416.43 1567.39 L420.03 1566.4 L423.62 1565.09 L427.22 1563.46 L430.81 1561.54 L434.41 1559.35 L438 1556.89 L441.6 1554.19 L445.19 1551.29 L448.79 1548.21 L452.38 1544.96 L455.98 1541.57 L459.57 1538.04 L463.17 1534.4 L466.76 1530.65 L470.36 1526.81 L473.95 1522.89 L477.55 1518.9 L481.14 1514.85 L484.74 1510.74 L488.33 1506.6 L491.93 1502.43 L495.52 1498.27 L499.12 1494.13 L502.71 1490.03 L506.31 1485.96 L509.9 1481.91 L513.5 1477.9 L517.09 1473.92 L520.69 1469.97 L524.28 1466.04 L527.88 1462.14 L531.47 1458.26 L535.07 1454.4 L538.66 1450.57 L542.26 1446.75 L545.85 1443 L549.45 1439.31 L553.04 1435.68 L556.63 1432.11 L560.23 1428.6 L563.83 1425.14 L567.42 1421.73 L571.02 1418.38 L574.61 1415.07 L578.21 1411.81 L581.8 1408.59 L585.4 1405.41 L588.99 1402.27 L592.59 1399.16 L596.18 1396.08 L599.78 1393.03 L603.37 1390.02 L606.97 1387.06 L610.56 1384.13 L614.16 1381.26 L617.75 1378.45 L621.35 1375.69 L624.94 1373 L628.54 1370.37 L632.13 1367.82 L635.73 1365.34 L639.32 1362.93 L642.92 1360.61 L646.51 1358.38 L650.11 1356.23 L653.7 1354.18 L657.3 1352.22 L660.89 1350.36 L664.49 1348.59 L668.08 1346.91 L671.68 1345.31 L675.27 1343.8 L678.87 1342.36 L682.46 1341.01 L686.06 1339.74 L689.65 1338.55 L693.25 1337.43 L696.84 1336.39 L700.44 1335.43 L704.03 1334.54 L707.63 1333.71 L711.22 1332.94 L714.82 1332.23 L718.41 1331.58 L722.01 1330.98 L725.6 1330.43 L729.2 1329.92 L732.79 1329.46 L736.38 1329.05 L739.98 1328.68 L743.58 1328.34 L747.17 1328.05 L750.77 1327.79 L754.36 1327.57 L757.96 1327.39 L761.55 1327.23 L765.15 1327.1 L768.74 1326.99 L772.34 1326.91 L775.93 1326.84 L779.53 1326.79 L783.12 1326.76 L786.72 1326.76 L790.31 1326.78 L793.91 1326.82 L797.5 1326.89 L801.1 1326.98 L804.69 1327.07 L808.29 1327.18 L811.88 1327.29 L815.48 1327.4 L819.07 1327.53 L822.67 1327.66 L826.26 1327.79 L829.86 1327.93 L833.45 1328.07 L837.05 1328.22 L840.64 1328.37 L844.24 1328.52 L847.83 1328.67 L851.43 1328.83 L855.02 1328.99 L858.62 1329.15 L862.21 1329.31 L865.81 1329.47 L869.4 1329.63 L873 1329.8 L876.59 1329.96 L880.19 1330.12 L883.78 1330.29 L887.38 1330.45 L890.97 1330.61 L894.57 1330.77 L898.16 1330.93 L901.76 1331.09 L905.35 1331.25 L908.95 1331.41 L912.54 1331.57 L916.14 1331.72 L919.73 1331.88 L923.33 1332.03 L926.92 1332.18 L930.52 1332.33 L934.11 1332.48 L937.71 1332.63 L941.3 1332.77 L944.9 1332.92 L948.49 1333.06 L952.09 1333.2 L955.68 1333.34 L959.28 1333.48 L962.87 1333.61 L966.47 1333.74 L970.06 1333.88 L973.66 1334.01 L977.25 1334.13 L980.85 1334.26 L984.44 1334.39 L988.04 1334.51 L991.63 1334.63 L995.23 1334.75 L998.82 1334.87 L1002.42 1334.98 L1006.01 1335.1 L1009.61 1335.21 L1013.2 1335.32 L1016.8 1335.43 L1020.39 1335.53 L1023.99 1335.64 L1027.58 1335.74 L1031.18 1335.85 L1034.77 1335.95 L1038.37 1336.04 L1041.96 1336.14 L1045.56 1336.24 L1049.15 1336.33 L1052.75 1336.42 L1056.34 1336.51 L1059.94 1336.6 L1063.53 1336.69 L1067.13 1336.78 L1070.72 1336.86 L1074.32 1336.95 L1077.91 1337.03 L1081.51 1337.11 L1085.1 1337.19 L1088.7 1337.27 L1092.29 1337.34 L1095.89 1337.42 L1099.48 1337.49 L1103.08 1337.56 L1106.67 1337.64 L1110.27 1337.71 L1113.86 1337.77 L1117.46 1337.84 L1121.05 1337.91 L1124.65 1337.97 L1128.24 1338.04 L1131.84 1338.1 L1135.43 1338.16 L1139.03 1338.22 L1142.62 1338.28 L1146.22 1338.34 L1149.81 1338.4 L1153.41 1338.45 L1157 1338.51 L1160.6 1338.56 L1164.19 1338.62 L1167.79 1338.67 L1171.38 1338.72 L1174.98 1338.77 L1178.57 1338.82 L1182.17 1338.87 L1185.76 1338.92 L1189.36 1338.97 L1192.95 1339.01 L1196.55 1339.06 L1200.14 1339.1 L1203.74 1339.15 L1207.33 1339.19 L1210.93 1339.23 L1214.52 1339.27 L1218.12 1339.31 L1221.71 1339.35 L1225.31 1339.39 L1228.9 1339.43" stroke="#ffa500" stroke-width="4.25" stroke-opacity="0.5" stroke-dasharray="15.7 6.8"/>
<path d="M222.3 1568.3 L409.24 1568.3 L412.84 1568.32 L416.43 1568.36 L420.03 1568.15 L423.62 1567.56 L427.22 1566.61 L430.81 1565.36 L434.41 1563.83 L438 1562.06 L441.6 1560.06 L445.19 1557.89 L448.79 1555.57 L452.38 1553.12 L455.98 1550.56 L459.57 1547.92 L463.17 1545.21 L466.76 1542.45 L470.36 1539.65 L473.95 1536.82 L477.55 1533.97 L481.14 1531.12 L484.74 1528.28 L488.33 1525.44 L491.93 1522.63 L495.52 1519.86 L499.12 1517.16 L502.71 1514.51 L506.31 1511.92 L509.9 1509.38 L513.5 1506.9 L517.09 1504.47 L520.69 1502.09 L524.28 1499.76 L527.88 1497.46 L531.47 1495.21 L535.07 1492.99 L538.66 1490.8 L542.26 1488.64 L545.85 1486.54 L549.45 1484.5 L553.04 1482.52 L556.63 1480.59 L560.23 1478.72 L563.83 1476.9 L567.42 1475.12 L571.02 1473.4 L574.61 1471.71 L578.21 1470.07 L581.8 1468.47 L585.4 1466.91 L588.99 1465.37 L592.59 1463.87 L596.18 1462.4 L599.78 1460.96 L603.37 1459.54 L606.97 1458.16 L610.56 1456.8 L614.16 1455.49 L617.75 1454.2 L621.35 1452.96 L624.94 1451.76 L628.54 1450.6 L632.13 1449.49 L635.73 1448.42 L639.32 1447.4 L642.92 1446.44 L646.51 1445.53 L650.11 1444.67 L653.7 1443.87 L657.3 1443.13 L660.89 1442.45 L664.49 1441.83 L668.08 1441.25 L671.68 1440.73 L675.27 1440.25 L678.87 1439.82 L682.46 1439.44 L686.06 1439.11 L689.65 1438.81 L693.25 1438.57 L696.84 1438.36 L700.44 1438.2 L704.03 1438.08 L707.63 1438 L711.22 1437.95 L714.82 1437.93 L718.41 1437.94 L722.01 1437.98 L725.6 1438.04 L729.2 1438.12 L732.79 1438.22 L736.38 1438.33 L739.98 1438.46 L743.58 1438.61 L747.17 1438.76 L750.77 1438.93 L754.36 1439.12 L757.96 1439.31 L761.55 1439.52 L765.15 1439.72 L768.74 1439.93 L772.34 1440.13 L775.93 1440.34 L779.53 1440.55 L783.12 1440.77 L786.72 1440.99 L790.31 1441.21 L793.91 1441.45 L797.5 1441.69 L801.1 1441.94 L804.69 1442.19 L808.29 1442.43 L811.88 1442.66 L815.48 1442.89 L819.07 1443.12 L822.67 1443.34 L826.26 1443.55 L829.86 1443.77 L833.45 1443.97 L837.05 1444.18 L840.64 1444.37 L844.24 1444.57 L847.83 1444.75 L851.43 1444.94 L855.02 1445.12 L858.62 1445.29 L862.21 1445.46 L865.81 1445.63 L869.4 1445.79 L873 1445.94 L876.59 1446.1 L880.19 1446.25 L883.78 1446.39 L887.38 1446.53 L890.97 1446.67 L894.57 1446.81 L898.16 1446.94 L901.76 1447.06 L905.35 1447.19 L908.95 1447.31 L912.54 1447.42 L916.14 1447.54 L919.73 1447.65 L923.33 1447.75 L926.92 1447.86 L930.52 1447.96 L934.11 1448.06 L937.71 1448.15 L941.3 1448.25 L944.9 1448.34 L948.49 1448.43 L952.09 1448.51 L955.68 1448.6 L959.28 1448.68 L962.87 1448.75 L966.47 1448.83 L970.06 1448.91 L973.66 1448.98 L977.25 1449.05 L980.85 1449.12 L984.44 1449.18 L988.04 1449.25 L991.63 1449.31 L995.23 1449.37 L998.82 1449.43 L1002.42 1449.49 L1006.01 1449.54 L1009.61 1449.6 L1013.2 1449.65 L1016.8 1449.7 L1020.39 1449.75 L1023.99 1449.8 L1027.58 1449.84 L1031.18 1449.89 L1034.77 1449.93 L1038.37 1449.98 L1041.96 1450.02 L1045.56 1450.06 L1049.15 1450.1 L1052.75 1450.14 L1056.34 1450.17 L1059.94 1450.21 L1063.53 1450.25 L1067.13 1450.28 L1070.72 1450.31 L1074.32 1450.34 L1077.91 1450.38 L1081.51 1450.41 L1085.1 1450.44 L1088.7 1450.46 L1092.29 1450.49 L1095.89 1450.52 L1099.48 1450.55 L1103.08 1450.57 L1106.67 1450.6 L1110.27 1450.62 L1113.86 1450.64 L1117.46 1450.67 L1121.05 1450.69 L1124.65 1450.71 L1128.24 1450.73 L1131.84 1450.75 L1135.43 1450.77 L1139.03 1450.79 L1142.62 1450.81 L1146.22 1450.83 L1149.81 1450.84 L1153.41 1450.86 L1157 1450.88 L1160.6 1450.89 L1164.19 1450.91 L1167.79 1450.92 L1171.38 1450.94 L1174.98 1450.95 L1178.57 1450.97 L1182.17 1450.98 L1185.76 1450.99 L1189.36 1451.01 L1192.95 1451.02 L1196.55 1451.03 L1200.14 1451.04 L1203.74 1451.05 L1207.33 1451.06 L1210.93 1451.08 L1214.52 1451.09 L1218.12 1451.1 L1221.71 1451.11 L1225.31 1451.11 L1228.9 1451.12" stroke="#ffa500" stroke-width="4.25" stroke-opacity="0.5" stroke-dasharray="15.7 6.8"/>
<path d="M222.3 1568.3 L409.24 1568.3 L412.84 1568.49 L416.43 1568.93 L420.03 1569.61 L423.62 1570.53 L427.22 1571.65 L430.81 1572.98 L434.41 1574.5 L438 1576.21 L441.6 1578.08 L445.19 1580.09 L448.79 1582.23 L452.38 1584.47 L455.98 1586.83 L459.57 1589.27 L463.17 1591.79 L466.76 1594.39 L470.36 1597.05 L473.95 1599.77 L477.55 1602.54 L481.14 1605.34 L484.74 1608.19 L488.33 1611.06 L491.93 1613.95 L495.52 1616.83 L499.12 1619.7 L502.71 1622.54 L506.31 1625.37 L509.9 1628.17 L513.5 1630.95 L517.09 1633.71 L520.69 1636.45 L524.28 1639.17 L527.88 1641.87 L531.47 1644.56 L535.07 1647.23 L538.66 1649.89 L542.26 1652.53 L545.85 1655.13 L549.45 1657.69 L553.04 1660.2 L556.63 1662.68 L560.23 1665.11 L563.83 1667.51 L567.42 1669.87 L571.02 1672.2 L574.61 1674.49 L578.21 1676.75 L581.8 1678.98 L585.4 1681.18 L588.99 1683.36 L592.59 1685.51 L596.18 1687.65 L599.78 1689.76 L603.37 1691.85 L606.97 1693.9 L610.56 1695.93 L614.16 1697.92 L617.75 1699.87 L621.35 1701.78 L624.94 1703.64 L628.54 1705.46 L632.13 1707.23 L635.73 1708.95 L639.32 1710.62 L642.92 1712.23 L646.51 1713.78 L650.11 1715.27 L653.7 1716.69 L657.3 1718.04 L660.89 1719.33 L664.49 1720.56 L668.08 1721.72 L671.68 1722.83 L675.27 1723.88 L678.87 1724.87 L682.46 1725.81 L686.06 1726.69 L689.65 1727.52 L693.25 1728.29 L696.84 1729.01 L700.44 1729.68 L704.03 1730.3 L707.63 1730.87 L711.22 1731.41 L714.82 1731.9 L718.41 1732.35 L722.01 1732.77 L725.6 1733.15 L729.2 1733.5 L732.79 1733.81 L736.38 1734.1 L739.98 1734.36 L743.58 1734.59 L747.17 1734.79 L750.77 1734.97 L754.36 1735.12 L757.96 1735.25 L761.55 1735.36 L765.15 1735.45 L768.74 1735.52 L772.34 1735.59 L775.93 1735.63 L779.53 1735.67 L783.12 1735.68 L786.72 1735.69 L790.31 1735.67 L793.91 1735.64 L797.5 1735.6 L801.1 1735.54 L804.69 1735.47 L808.29 1735.4 L811.88 1735.32 L815.48 1735.24 L819.07 1735.16 L822.67 1735.07 L826.26 1734.97 L829.86 1734.88 L833.45 1734.78 L837.05 1734.68 L840.64 1734.57 L844.24 1734.47 L847.83 1734.36 L851.43 1734.25 L855.02 1734.14 L858.62 1734.03 L862.21 1733.92 L865.81 1733.81 L869.4 1733.7 L873 1733.58 L876.59 1733.47 L880.19 1733.36 L883.78 1733.24 L887.38 1733.13 L890.97 1733.02 L894.57 1732.91 L898.16 1732.8 L901.76 1732.68 L905.35 1732.57 L908.95 1732.46 L912.54 1732.36 L916.14 1732.25 L919.73 1732.14 L923.33 1732.03 L926.92 1731.93 L930.52 1731.83 L934.11 1731.72 L937.71 1731.62 L941.3 1731.52 L944.9 1731.42 L948.49 1731.32 L952.09 1731.22 L955.68 1731.13 L959.28 1731.03 L962.87 1730.94 L966.47 1730.85 L970.06 1730.76 L973.66 1730.67 L977.25 1730.58 L980.85 1730.49 L984.44 1730.4 L988.04 1730.32 L991.63 1730.23 L995.23 1730.15 L998.82 1730.07 L1002.42 1729.99 L1006.01 1729.91 L1009.61 1729.83 L1013.2 1729.76 L1016.8 1729.68 L1020.39 1729.61 L1023.99 1729.53 L1027.58 1729.46 L1031.18 1729.39 L1034.77 1729.32 L1038.37 1729.25 L1041.96 1729.19 L1045.56 1729.12 L1049.15 1729.05 L1052.75 1728.99 L1056.34 1728.93 L1059.94 1728.87 L1063.53 1728.8 L1067.13 1728.74 L1070.72 1728.69 L1074.32 1728.63 L1077.91 1728.57 L1081.51 1728.52 L1085.1 1728.46 L1088.7 1728.41 L1092.29 1728.35 L1095.89 1728.3 L1099.48 1728.25 L1103.08 1728.2 L1106.67 1728.15 L1110.27 1728.1 L1113.86 1728.05 L1117.46 1728.01 L1121.05 1727.96 L1124.65 1727.92 L1128.24 1727.87 L1131.84 1727.83 L1135.43 1727.79 L1139.03 1727.74 L1142.62 1727.7 L1146.22 1727.66 L1149.81 1727.62 L1153.41 1727.58 L1157 1727.54 L1160.6 1727.51 L1164.19 1727.47 L1167.79 1727.43 L1171.38 1727.4 L1174.98 1727.36 L1178.57 1727.33 L1182.17 1727.29 L1185.76 1727.26 L1189.36 1727.23 L1192.95 1727.2 L1196.55 1727.16 L1200.14 1727.13 L1203.74 1727.1 L1207.33 1727.07 L1210.93 1727.04 L1214.52 1727.02 L1218.12 1726.99 L1221.71 1726.96 L1225.31 1726.93 L1228.9 1726.91" stroke="#006400" stroke-width="4.25" stroke-opacity="0.5" stroke-dasharray="15.7 6.8"/>
<path d="M222.3 1568.3 L409.24 1568.3 L412.84 1568.29 L416.43 1568.26 L420.03 1568.4 L423.62 1568.82 L427.22 1569.47 L430.81 1570.34 L434.41 1571.4 L438 1572.63 L441.6 1574.01 L445.19 1575.51 L448.79 1577.12 L452.38 1578.82 L455.98 1580.59 L459.57 1582.42 L463.17 1584.3 L466.76 1586.21 L470.36 1588.16 L473.95 1590.12 L477.55 1592.09 L481.14 1594.06 L484.74 1596.03 L488.33 1598 L491.93 1599.95 L495.52 1601.87 L499.12 1603.74 L502.71 1605.58 L506.31 1607.37 L509.9 1609.13 L513.5 1610.85 L517.09 1612.53 L520.69 1614.18 L524.28 1615.8 L527.88 1617.39 L531.47 1618.95 L535.07 1620.49 L538.66 1622.01 L542.26 1623.51 L545.85 1624.96 L549.45 1626.37 L553.04 1627.75 L556.63 1629.08 L560.23 1630.38 L563.83 1631.64 L567.42 1632.87 L571.02 1634.07 L574.61 1635.23 L578.21 1636.37 L581.8 1637.48 L585.4 1638.57 L588.99 1639.63 L592.59 1640.67 L596.18 1641.69 L599.78 1642.69 L603.37 1643.67 L606.97 1644.63 L610.56 1645.57 L614.16 1646.48 L617.75 1647.37 L621.35 1648.23 L624.94 1649.06 L628.54 1649.87 L632.13 1650.64 L635.73 1651.38 L639.32 1652.08 L642.92 1652.75 L646.51 1653.38 L650.11 1653.98 L653.7 1654.53 L657.3 1655.04 L660.89 1655.51 L664.49 1655.94 L668.08 1656.34 L671.68 1656.71 L675.27 1657.04 L678.87 1657.33 L682.46 1657.6 L686.06 1657.83 L689.65 1658.03 L693.25 1658.2 L696.84 1658.35 L700.44 1658.46 L704.03 1658.54 L707.63 1658.6 L711.22 1658.63 L714.82 1658.65 L718.41 1658.64 L722.01 1658.61 L725.6 1658.57 L729.2 1658.51 L732.79 1658.45 L736.38 1658.37 L739.98 1658.28 L743.58 1658.18 L747.17 1658.07 L750.77 1657.95 L754.36 1657.82 L757.96 1657.69 L761.55 1657.55 L765.15 1657.4 L768.74 1657.26 L772.34 1657.12 L775.93 1656.97 L779.53 1656.83 L783.12 1656.68 L786.72 1656.53 L790.31 1656.37 L793.91 1656.21 L797.5 1656.04 L801.1 1655.87 L804.69 1655.7 L808.29 1655.53 L811.88 1655.37 L815.48 1655.21 L819.07 1655.05 L822.67 1654.9 L826.26 1654.75 L829.86 1654.6 L833.45 1654.46 L837.05 1654.32 L840.64 1654.18 L844.24 1654.05 L847.83 1653.92 L851.43 1653.79 L855.02 1653.67 L858.62 1653.55 L862.21 1653.43 L865.81 1653.31 L869.4 1653.2 L873 1653.09 L876.59 1652.99 L880.19 1652.88 L883.78 1652.78 L887.38 1652.68 L890.97 1652.59 L894.57 1652.5 L898.16 1652.41 L901.76 1652.32 L905.35 1652.23 L908.95 1652.15 L912.54 1652.07 L916.14 1651.99 L919.73 1651.91 L923.33 1651.84 L926.92 1651.77 L930.52 1651.7 L934.11 1651.63 L937.71 1651.56 L941.3 1651.5 L944.9 1651.43 L948.49 1651.37 L952.09 1651.31 L955.68 1651.26 L959.28 1651.2 L962.87 1651.14 L966.47 1651.09 L970.06 1651.04 L973.66 1650.99 L977.25 1650.94 L980.85 1650.89 L984.44 1650.85 L988.04 1650.8 L991.63 1650.76 L995.23 1650.72 L998.82 1650.68 L1002.42 1650.64 L1006.01 1650.6 L1009.61 1650.56 L1013.2 1650.53 L1016.8 1650.49 L1020.39 1650.46 L1023.99 1650.42 L1027.58 1650.39 L1031.18 1650.36 L1034.77 1650.33 L1038.37 1650.3 L1041.96 1650.27 L1045.56 1650.24 L1049.15 1650.21 L1052.75 1650.19 L1056.34 1650.16 L1059.94 1650.14 L1063.53 1650.11 L1067.13 1650.09 L1070.72 1650.07 L1074.32 1650.04 L1077.91 1650.02 L1081.51 1650 L1085.1 1649.98 L1088.7 1649.96 L1092.29 1649.94 L1095.89 1649.92 L1099.48 1649.9 L1103.08 1649.89 L1106.67 1649.87 L1110.27 1649.85 L1113.86 1649.84 L1117.46 1649.82 L1121.05 1649.8 L1124.65 1649.79 L1128.24 1649.78 L1131.84 1649.76 L1135.43 1649.75 L1139.03 1649.73 L1142.62 1649.72 L1146.22 1649.71 L1149.81 1649.7 L1153.41 1649.69 L1157 1649.67 L1160.6 1649.66 L1164.19 1649.65 L1167.79 1649.64 L1171.38 1649.63 L1174.98 1649.62 L1178.57 1649.61 L1182.17 1649.6 L1185.76 1649.59 L1189.36 1649.58 L1192.95 1649.58 L1196.55 1649.57 L1200.14 1649.56 L1203.74 1649.55 L1207.33 1649.54 L1210.93 1649.54 L1214.52 1649.53 L1218.12 1649.52 L1221.71 1649.52 L1225.31 1649.51 L1228.9 1649.5" stroke="#006400" stroke-width="4.25" stroke-opacity="0.5" stroke-dasharray="15.7 6.8"/>
</g>
<line x1="222.3" y1="1753.9" x2="222.3" y2="1769.1" stroke="#000" stroke-width="3.9"/>
<text x="222.3" y="1809.6" font-size="34.2" text-anchor="middle">2010</text>
<line x1="366.1" y1="1753.9" x2="366.1" y2="1769.1" stroke="#000" stroke-width="3.9"/>
<text x="366.1" y="1809.6" font-size="34.2" text-anchor="middle">2020</text>
<line x1="509.9" y1="1753.9" x2="509.9" y2="1769.1" stroke="#000" stroke-width="3.9"/>
<text x="509.9" y="1809.6" font-size="34.2" text-anchor="middle">2030</text>
<line x1="653.7" y1="1753.9" x2="653.7" y2="1769.1" stroke="#000" stroke-width="3.9"/>
<text x="653.7" y="1809.6" font-size="34.2" text-anchor="middle">2040</text>
<line x1="797.5" y1="1753.9" x2="797.5" y2="1769.1" stroke="#000" stroke-width="3.9"/>
<text x="797.5" y="1809.6" font-size="34.2" text-anchor="middle">2050</text>
<line x1="941.3" y1="1753.9" x2="941.3" y2="1769.1" stroke="#000" stroke-width="3.9"/>
<text x="941.3" y="1809.6" font-size="34.2" text-anchor="middle">2060</text>
<line x1="1085.1" y1="1753.9" x2="1085.1" y2="1769.1" stroke="#000" stroke-width="3.9"/>
<text x="1085.1" y="1809.6" font-size="34.2" text-anchor="middle">2070</text>
<line x1="1228.9" y1="1753.9" x2="1228.9" y2="1769.1" stroke="#000" stroke-width="3.9"/>
<text x="1228.9" y="1809.6" font-size="34.2" text-anchor="middle">2080</text>
<line x1="207.1" y1="1320.97" x2="222.3" y2="1320.97" stroke="#000" stroke-width="3.9"/>
<text x="192.8" y="1333.97" font-size="34.2" text-anchor="end">0.010</text>
<line x1="207.1" y1="1444.63" x2="222.3" y2="1444.63" stroke="#000" stroke-width="3.9"/>
<text x="192.8" y="1457.63" font-size="34.2" text-anchor="end">0.005</text>
<line x1="207.1" y1="1568.3" x2="222.3" y2="1568.3" stroke="#000" stroke-width="3.9"/>
<text x="192.8" y="1581.3" font-size="34.2" text-anchor="end">0.000</text>
<line x1="207.1" y1="1691.96" x2="222.3" y2="1691.96" stroke="#000" stroke-width="3.9"/>
<text x="192.8" y="1704.96" font-size="34.2" text-anchor="end">−0.005</text>
<rect x="222.3" y="1296.4" width="1006.6" height="457.5" fill="none" stroke="#000" stroke-width="3.9"/>
<text transform="translate(41 1525.75) rotate(-90) scale(1 1.026)" font-size="42.75" text-anchor="middle">K</text>
<text x="725.6" y="35.8" font-size="42.5" text-anchor="middle">Emissions Anomaly</text>
<text x="20.8" y="28.8" font-size="38.5" font-weight="bold">(a)</text>
<text x="725.6" y="653.3" font-size="38.3" text-anchor="middle">Temperature Anomaly from SSP2-45</text>
<text x="20.8" y="646.6" font-size="38.5" font-weight="bold">(b)</text>
<text x="725.6" y="1270.9" font-size="38.3" text-anchor="middle">Temperature Anomaly from SSP1-26</text>
<text x="20.8" y="1264.2" font-size="38.5" font-weight="bold">(c)</text>
<text x="725.6" y="1860.3" font-size="34.2" text-anchor="middle">Year</text>
</svg>
</body></html>
